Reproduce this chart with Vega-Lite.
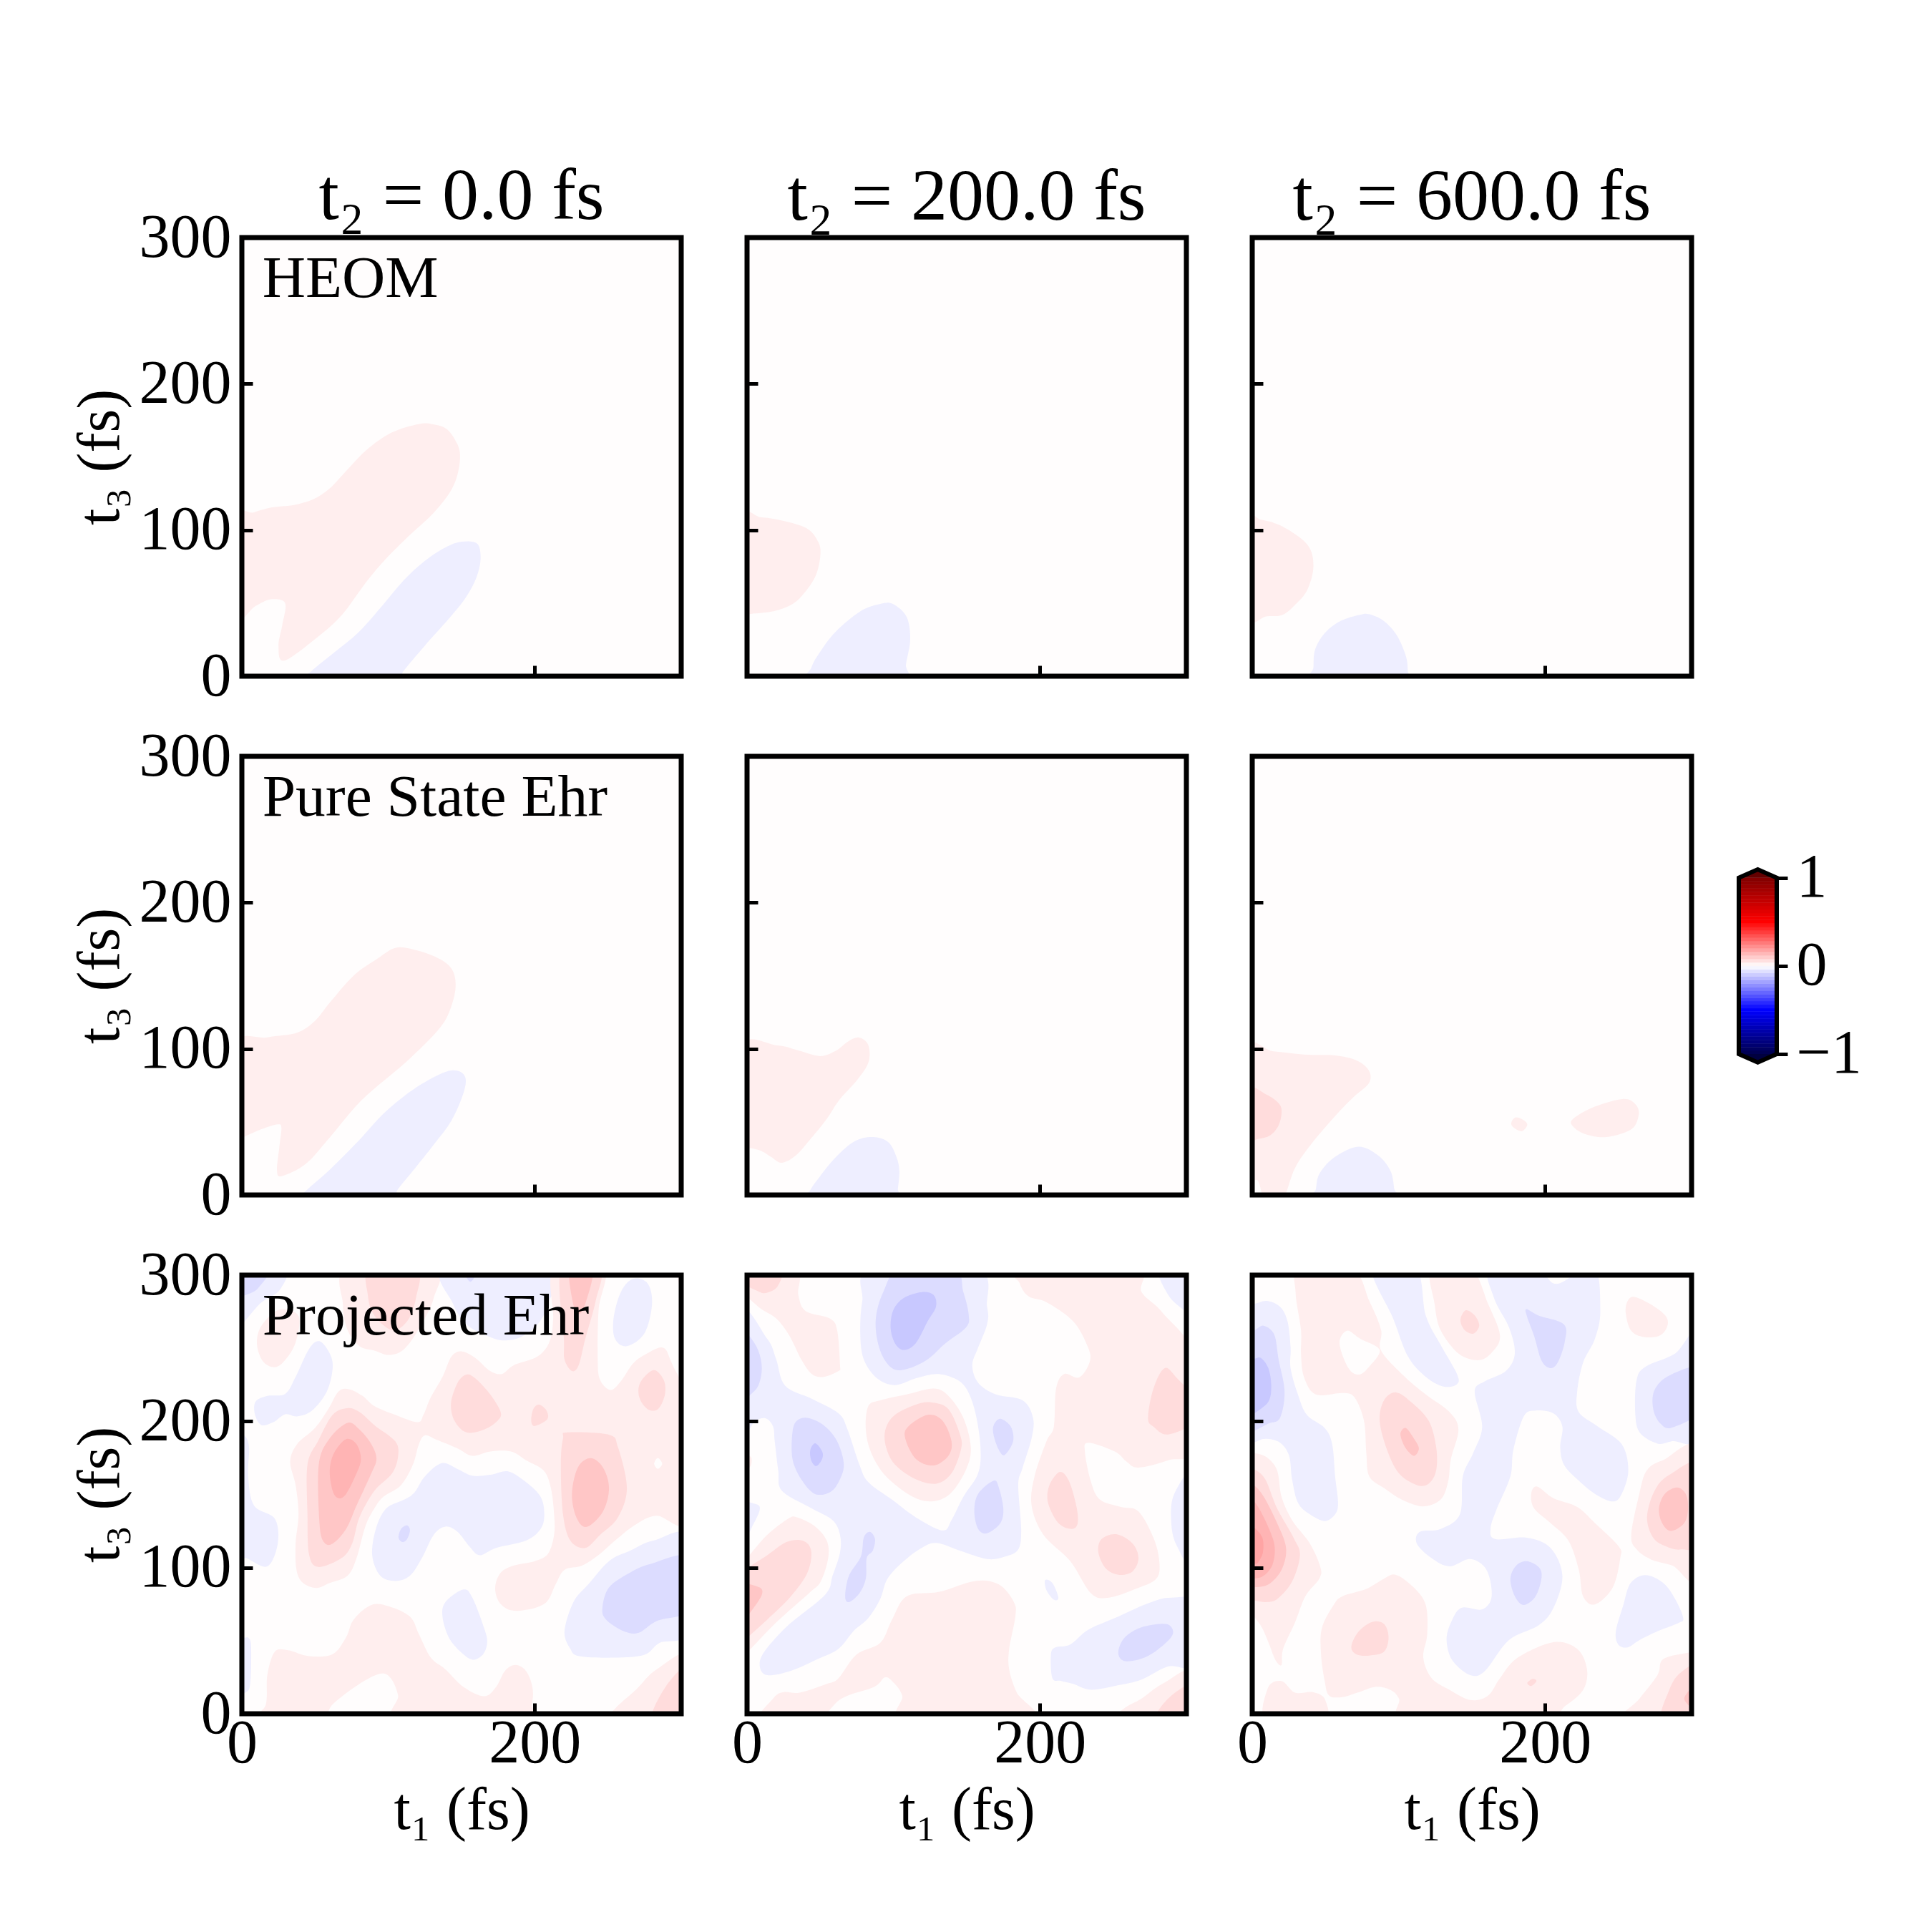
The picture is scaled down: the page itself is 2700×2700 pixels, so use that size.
{"$schema":"https://vega.github.io/schema/vega-lite/v6.json","padding":{"left":98,"top":224,"right":10,"bottom":10},"background":"white","config":{"view":{"stroke":null},"font":"Liberation Serif","axis":{"grid":false,"domain":false,"tickColor":"black","tickWidth":5,"tickSize":-15,"labelFontSize":86,"titleFontSize":84,"labelFont":"Liberation Serif","titleFont":"Liberation Serif","titleFontWeight":"normal","labelColor":"black","titleColor":"black","labelFlush":false,"labelOverlap":false},"title":{"font":"Liberation Serif","fontSize":102,"fontWeight":"normal","color":"black","offset":0.01}},
"datasets":{"frame":[{"x":0,"y":0,"x2":300,"y2":300}],
"p11":[{"id":1,"v":1,"x":-5,"y":107},{"id":1,"v":1,"x":8,"y":112},{"id":1,"v":1,"x":20.5,"y":115.5},{"id":1,"v":1,"x":35,"y":117},{"id":1,"v":1,"x":48.7,"y":121},{"id":1,"v":1,"x":60,"y":128.5},{"id":1,"v":1,"x":70,"y":139},{"id":1,"v":1,"x":85,"y":154.6},{"id":1,"v":1,"x":102,"y":166.5},{"id":1,"v":1,"x":120.5,"y":172.4},{"id":1,"v":1,"x":130,"y":172.4},{"id":1,"v":1,"x":140,"y":169},{"id":1,"v":1,"x":147,"y":159},{"id":1,"v":1,"x":149,"y":150},{"id":1,"v":1,"x":147,"y":137},{"id":1,"v":1,"x":141.6,"y":125},{"id":1,"v":1,"x":130,"y":110.7},{"id":1,"v":1,"x":116,"y":97.7},{"id":1,"v":1,"x":99,"y":81},{"id":1,"v":1,"x":85,"y":64.5},{"id":1,"v":1,"x":68.4,"y":42},{"id":1,"v":1,"x":51.5,"y":26.6},{"id":1,"v":1,"x":29,"y":10.7},{"id":1,"v":1,"x":25,"y":20.6},{"id":1,"v":1,"x":27.6,"y":35},{"id":1,"v":1,"x":29.5,"y":50},{"id":1,"v":1,"x":19.7,"y":52.6},{"id":1,"v":1,"x":9.3,"y":48},{"id":1,"v":1,"x":-5,"y":41},
{"id":2,"v":-1,"x":41,"y":-5},{"id":2,"v":-1,"x":47,"y":3},{"id":2,"v":-1,"x":62.8,"y":16},{"id":2,"v":-1,"x":79.6,"y":30},{"id":2,"v":-1,"x":96.5,"y":49},{"id":2,"v":-1,"x":110.6,"y":65.7},{"id":2,"v":-1,"x":124.7,"y":78.7},{"id":2,"v":-1,"x":138.8,"y":88},{"id":2,"v":-1,"x":150,"y":92},{"id":2,"v":-1,"x":160.7,"y":90.6},{"id":2,"v":-1,"x":163,"y":80},{"id":2,"v":-1,"x":160,"y":67},{"id":2,"v":-1,"x":153,"y":54},{"id":2,"v":-1,"x":141.6,"y":39.6},{"id":2,"v":-1,"x":124.7,"y":20.6},{"id":2,"v":-1,"x":110,"y":3},{"id":2,"v":-1,"x":106,"y":-5}],
"p12":[{"id":1,"v":1,"x":-5,"y":108},{"id":1,"v":1,"x":10,"y":108.6},{"id":1,"v":1,"x":27,"y":105.7},{"id":1,"v":1,"x":41.8,"y":100.5},{"id":1,"v":1,"x":49,"y":91},{"id":1,"v":1,"x":50,"y":82},{"id":1,"v":1,"x":47,"y":69},{"id":1,"v":1,"x":39.7,"y":57.6},{"id":1,"v":1,"x":31.2,"y":49.4},{"id":1,"v":1,"x":18.6,"y":44.5},{"id":1,"v":1,"x":2.5,"y":42.6},{"id":1,"v":1,"x":-5,"y":42},
{"id":2,"v":-1,"x":42.5,"y":-6},{"id":2,"v":-1,"x":44,"y":6},{"id":2,"v":-1,"x":50,"y":16.8},{"id":2,"v":-1,"x":60.8,"y":30.7},{"id":2,"v":-1,"x":77.6,"y":44.5},{"id":2,"v":-1,"x":91,"y":49.4},{"id":2,"v":-1,"x":99.6,"y":49.4},{"id":2,"v":-1,"x":109,"y":40.5},{"id":2,"v":-1,"x":111.4,"y":25},{"id":2,"v":-1,"x":108.5,"y":8},{"id":2,"v":-1,"x":107,"y":-6}],
"p13":[{"id":1,"v":1,"x":-5,"y":107},{"id":1,"v":1,"x":5.9,"y":107},{"id":1,"v":1,"x":20.7,"y":102.4},{"id":1,"v":1,"x":37.6,"y":90},{"id":1,"v":1,"x":41.8,"y":75.5},{"id":1,"v":1,"x":37.6,"y":59},{"id":1,"v":1,"x":29,"y":48.6},{"id":1,"v":1,"x":20.7,"y":42},{"id":1,"v":1,"x":10,"y":41},{"id":1,"v":1,"x":-5,"y":41},
{"id":2,"v":-1,"x":41.5,"y":-6},{"id":2,"v":-1,"x":41.8,"y":6},{"id":2,"v":-1,"x":43,"y":18.4},{"id":2,"v":-1,"x":50,"y":30},{"id":2,"v":-1,"x":60.8,"y":38},{"id":2,"v":-1,"x":73.4,"y":42},{"id":2,"v":-1,"x":79.7,"y":42.4},{"id":2,"v":-1,"x":89.5,"y":38},{"id":2,"v":-1,"x":98.7,"y":28},{"id":2,"v":-1,"x":105,"y":13.5},{"id":2,"v":-1,"x":106.3,"y":3},{"id":2,"v":-1,"x":106.5,"y":-6}],
"p21":[{"id":1,"v":1,"x":-5,"y":102},{"id":1,"v":1,"x":17.4,"y":107.8},{"id":1,"v":1,"x":37.7,"y":111},{"id":1,"v":1,"x":49.9,"y":119},{"id":1,"v":1,"x":60,"y":131.5},{"id":1,"v":1,"x":76.3,"y":150},{"id":1,"v":1,"x":92.5,"y":161.6},{"id":1,"v":1,"x":104.7,"y":169},{"id":1,"v":1,"x":116.8,"y":168},{"id":1,"v":1,"x":133,"y":162.5},{"id":1,"v":1,"x":143,"y":155},{"id":1,"v":1,"x":146,"y":143.7},{"id":1,"v":1,"x":143,"y":129},{"id":1,"v":1,"x":135,"y":114},{"id":1,"v":1,"x":112.8,"y":91.5},{"id":1,"v":1,"x":82.4,"y":65.4},{"id":1,"v":1,"x":60,"y":39.3},{"id":1,"v":1,"x":43.8,"y":21.4},{"id":1,"v":1,"x":27.6,"y":13},{"id":1,"v":1,"x":24,"y":16.5},{"id":1,"v":1,"x":25.6,"y":32.8},{"id":1,"v":1,"x":27,"y":45.8},{"id":1,"v":1,"x":24.5,"y":48.3},{"id":1,"v":1,"x":13.4,"y":45},{"id":1,"v":1,"x":1.6,"y":39.8},{"id":1,"v":1,"x":-5,"y":37},
{"id":2,"v":-1,"x":39,"y":-5},{"id":2,"v":-1,"x":44,"y":3},{"id":2,"v":-1,"x":60,"y":17.3},{"id":2,"v":-1,"x":80.3,"y":37.7},{"id":2,"v":-1,"x":96.6,"y":55.6},{"id":2,"v":-1,"x":116.8,"y":72},{"id":2,"v":-1,"x":137,"y":83.4},{"id":2,"v":-1,"x":147,"y":85},{"id":2,"v":-1,"x":152.7,"y":80},{"id":2,"v":-1,"x":151,"y":68.7},{"id":2,"v":-1,"x":143,"y":50.7},{"id":2,"v":-1,"x":131,"y":34.4},{"id":2,"v":-1,"x":116.8,"y":16.5},{"id":2,"v":-1,"x":106,"y":3},{"id":2,"v":-1,"x":103,"y":-5}],
"p22":[{"id":1,"v":1,"x":-5,"y":101},{"id":1,"v":1,"x":20.7,"y":102.3},{"id":1,"v":1,"x":35.4,"y":98.7},{"id":1,"v":1,"x":50,"y":95},{"id":1,"v":1,"x":60.8,"y":98.7},{"id":1,"v":1,"x":69,"y":105},{"id":1,"v":1,"x":76.4,"y":107.7},{"id":1,"v":1,"x":82.7,"y":102.8},{"id":1,"v":1,"x":83,"y":91},{"id":1,"v":1,"x":75.5,"y":79},{"id":1,"v":1,"x":63,"y":65},{"id":1,"v":1,"x":54.4,"y":52},{"id":1,"v":1,"x":44,"y":39},{"id":1,"v":1,"x":33.3,"y":27},{"id":1,"v":1,"x":23.6,"y":22},{"id":1,"v":1,"x":16.4,"y":26},{"id":1,"v":1,"x":10,"y":30},{"id":1,"v":1,"x":2.5,"y":32},{"id":1,"v":1,"x":-5,"y":33},
{"id":2,"v":-1,"x":41,"y":-5},{"id":2,"v":-1,"x":43,"y":3},{"id":2,"v":-1,"x":50,"y":13},{"id":2,"v":-1,"x":60.8,"y":26},{"id":2,"v":-1,"x":73.4,"y":36.7},{"id":2,"v":-1,"x":86,"y":39.6},{"id":2,"v":-1,"x":96.6,"y":36},{"id":2,"v":-1,"x":102,"y":26},{"id":2,"v":-1,"x":104,"y":16.3},{"id":2,"v":-1,"x":103,"y":4},{"id":2,"v":-1,"x":102,"y":-5}],
"p23":[{"id":1,"v":1,"x":-5,"y":98.5},{"id":1,"v":1,"x":14.3,"y":98.2},{"id":1,"v":1,"x":35.4,"y":96},{"id":1,"v":1,"x":56.5,"y":95.4},{"id":1,"v":1,"x":71.3,"y":92},{"id":1,"v":1,"x":79.7,"y":85},{"id":1,"v":1,"x":79.7,"y":76.5},{"id":1,"v":1,"x":69,"y":66.8},{"id":1,"v":1,"x":56.5,"y":53.8},{"id":1,"v":1,"x":39.7,"y":34},{"id":1,"v":1,"x":29,"y":18},{"id":1,"v":1,"x":20,"y":-5},{"id":1,"v":1,"x":9,"y":-5},{"id":1,"v":1,"x":3.8,"y":9.8},{"id":1,"v":1,"x":-5,"y":15},
{"id":2,"v":2,"x":-5,"y":73},{"id":2,"v":2,"x":10,"y":68.5},{"id":2,"v":2,"x":18.6,"y":62},{"id":2,"v":2,"x":20,"y":55.5},{"id":2,"v":2,"x":17.7,"y":47},{"id":2,"v":2,"x":12.2,"y":40.8},{"id":2,"v":2,"x":3.8,"y":38.3},{"id":2,"v":2,"x":-5,"y":38},
{"id":3,"v":1,"x":179.7,"y":53},{"id":3,"v":1,"x":185,"y":51.4},{"id":3,"v":1,"x":187.8,"y":48},{"id":3,"v":1,"x":184,"y":43.6},{"id":3,"v":1,"x":178,"y":46.5},{"id":3,"v":1,"x":177,"y":49.8},
{"id":4,"v":1,"x":252.7,"y":65.6},{"id":4,"v":1,"x":261,"y":62.8},{"id":4,"v":1,"x":264,"y":55.5},{"id":4,"v":1,"x":259,"y":45},{"id":4,"v":1,"x":242,"y":39.6},{"id":4,"v":1,"x":227.4,"y":41.6},{"id":4,"v":1,"x":219,"y":47},{"id":4,"v":1,"x":219,"y":52},{"id":4,"v":1,"x":233.8,"y":60.4},
{"id":5,"v":-1,"x":42.5,"y":-5},{"id":5,"v":-1,"x":43.5,"y":4},{"id":5,"v":-1,"x":46,"y":14.7},{"id":5,"v":-1,"x":56.5,"y":26},{"id":5,"v":-1,"x":72.6,"y":33},{"id":5,"v":-1,"x":86,"y":27},{"id":5,"v":-1,"x":94.5,"y":16.3},{"id":5,"v":-1,"x":97,"y":4},{"id":5,"v":-1,"x":98,"y":-5}],
"p31":[{"id":1,"v":-1,"x":-5,"y":305},{"id":1,"v":-1,"x":29,"y":305},{"id":1,"v":-1,"x":26,"y":290},{"id":1,"v":-1,"x":13,"y":281},{"id":1,"v":-1,"x":1.6,"y":268},{"id":1,"v":-1,"x":-5,"y":262},
{"id":2,"v":-2,"x":-5,"y":305},{"id":2,"v":-2,"x":18.5,"y":305},{"id":2,"v":-2,"x":11,"y":291},{"id":2,"v":-2,"x":1.6,"y":286},{"id":2,"v":-2,"x":-5,"y":283},
{"id":3,"v":1,"x":38.7,"y":272},{"id":3,"v":1,"x":36.7,"y":254},{"id":3,"v":1,"x":29.6,"y":242},{"id":3,"v":1,"x":22.5,"y":237},{"id":3,"v":1,"x":14.4,"y":241},{"id":3,"v":1,"x":10.3,"y":253},{"id":3,"v":1,"x":13.4,"y":265.4},{"id":3,"v":1,"x":25.6,"y":276.4},
{"id":4,"v":1,"x":72,"y":305},{"id":4,"v":1,"x":69,"y":280},{"id":4,"v":1,"x":72.2,"y":262.4},{"id":4,"v":1,"x":80.3,"y":251.4},{"id":4,"v":1,"x":90.5,"y":248.4},{"id":4,"v":1,"x":100.6,"y":245.4},{"id":4,"v":1,"x":110.8,"y":249.4},{"id":4,"v":1,"x":120.9,"y":263.4},{"id":4,"v":1,"x":131,"y":284.4},{"id":4,"v":1,"x":131,"y":305},
{"id":5,"v":2,"x":87.4,"y":305},{"id":5,"v":2,"x":86,"y":286.4},{"id":5,"v":2,"x":90.5,"y":272.4},{"id":5,"v":2,"x":102.6,"y":262.4},{"id":5,"v":2,"x":112.8,"y":268.4},{"id":5,"v":2,"x":118.9,"y":284.4},{"id":5,"v":2,"x":119.3,"y":305},
{"id":6,"v":-1,"x":139,"y":305},{"id":6,"v":-1,"x":144.2,"y":280.4},{"id":6,"v":-1,"x":153.4,"y":266.4},{"id":6,"v":-1,"x":165.5,"y":259.4},{"id":6,"v":-1,"x":177.7,"y":255.4},{"id":6,"v":-1,"x":189.9,"y":257.4},{"id":6,"v":-1,"x":202,"y":266.4},{"id":6,"v":-1,"x":209,"y":280.4},{"id":6,"v":-1,"x":212,"y":305},
{"id":7,"v":-2,"x":150,"y":305},{"id":7,"v":-2,"x":153,"y":299},{"id":7,"v":-2,"x":156,"y":295.5},{"id":7,"v":-2,"x":159,"y":299},{"id":7,"v":-2,"x":160,"y":305},
{"id":8,"v":1,"x":213.2,"y":305},{"id":8,"v":1,"x":247,"y":305},{"id":8,"v":1,"x":243.6,"y":276.4},{"id":8,"v":1,"x":243,"y":242.4},{"id":8,"v":1,"x":244.6,"y":228.4},{"id":8,"v":1,"x":251.7,"y":221.4},{"id":8,"v":1,"x":258.8,"y":227.4},{"id":8,"v":1,"x":267,"y":239.4},{"id":8,"v":1,"x":275,"y":245.4},{"id":8,"v":1,"x":287.2,"y":250.4},{"id":8,"v":1,"x":293.3,"y":240.4},{"id":8,"v":1,"x":306,"y":205},{"id":8,"v":1,"x":306,"y":132},{"id":8,"v":1,"x":283.2,"y":135.4},{"id":8,"v":1,"x":269,"y":129.4},{"id":8,"v":1,"x":254.8,"y":118.4},{"id":8,"v":1,"x":244.6,"y":109.4},{"id":8,"v":1,"x":232.5,"y":101.4},{"id":8,"v":1,"x":220.3,"y":98.4},{"id":8,"v":1,"x":214.2,"y":88.4},{"id":8,"v":1,"x":208,"y":76.4},{"id":8,"v":1,"x":196,"y":71.4},{"id":8,"v":1,"x":183.8,"y":70.8},{"id":8,"v":1,"x":175.7,"y":76.4},{"id":8,"v":1,"x":173,"y":86.4},{"id":8,"v":1,"x":176.7,"y":96.4},{"id":8,"v":1,"x":185.8,"y":101.4},{"id":8,"v":1,"x":200,"y":104.4},{"id":8,"v":1,"x":209,"y":109.4},{"id":8,"v":1,"x":213.2,"y":122.4},{"id":8,"v":1,"x":213.2,"y":136.4},{"id":8,"v":1,"x":211,"y":154.4},{"id":8,"v":1,"x":206,"y":166.4},{"id":8,"v":1,"x":194,"y":173.4},{"id":8,"v":1,"x":183.8,"y":179.4},{"id":8,"v":1,"x":169.6,"y":179.4},{"id":8,"v":1,"x":157.4,"y":176.4},{"id":8,"v":1,"x":147.3,"y":181.4},{"id":8,"v":1,"x":133,"y":187.4},{"id":8,"v":1,"x":125,"y":190.4},{"id":8,"v":1,"x":120.9,"y":184.4},{"id":8,"v":1,"x":116.8,"y":170.4},{"id":8,"v":1,"x":108.7,"y":156.4},{"id":8,"v":1,"x":96.6,"y":148.4},{"id":8,"v":1,"x":90.5,"y":140.4},{"id":8,"v":1,"x":84.4,"y":128.4},{"id":8,"v":1,"x":78.3,"y":106.4},{"id":8,"v":1,"x":72.2,"y":94.4},{"id":8,"v":1,"x":60,"y":89.4},{"id":8,"v":1,"x":51,"y":86},{"id":8,"v":1,"x":41.8,"y":89.4},{"id":8,"v":1,"x":37.3,"y":98.4},{"id":8,"v":1,"x":36.7,"y":116.4},{"id":8,"v":1,"x":38.7,"y":136.4},{"id":8,"v":1,"x":36.7,"y":156.4},{"id":8,"v":1,"x":33,"y":172.4},{"id":8,"v":1,"x":37.7,"y":184.4},{"id":8,"v":1,"x":49.9,"y":195.4},{"id":8,"v":1,"x":59,"y":208.4},{"id":8,"v":1,"x":66,"y":220.4},{"id":8,"v":1,"x":73.2,"y":222},{"id":8,"v":1,"x":82.4,"y":217.4},{"id":8,"v":1,"x":90.5,"y":210.4},{"id":8,"v":1,"x":104.7,"y":204.4},{"id":8,"v":1,"x":119.9,"y":199.4},{"id":8,"v":1,"x":124,"y":204.4},{"id":8,"v":1,"x":129,"y":216.4},{"id":8,"v":1,"x":137,"y":230.4},{"id":8,"v":1,"x":143.2,"y":244.4},{"id":8,"v":1,"x":150.3,"y":247.8},{"id":8,"v":1,"x":159.4,"y":243.4},{"id":8,"v":1,"x":169.6,"y":234.4},{"id":8,"v":1,"x":177.7,"y":232.4},{"id":8,"v":1,"x":185.8,"y":238.4},{"id":8,"v":1,"x":202,"y":244.4},{"id":8,"v":1,"x":210,"y":254.4},{"id":8,"v":1,"x":212.6,"y":270.4},
{"id":9,"v":0,"x":284,"y":175},{"id":9,"v":0,"x":287,"y":171},{"id":9,"v":0,"x":284,"y":167.5},{"id":9,"v":0,"x":281.5,"y":171},
{"id":10,"v":2,"x":218.3,"y":305},{"id":10,"v":2,"x":219.9,"y":256.4},{"id":10,"v":2,"x":220.3,"y":242.4},{"id":10,"v":2,"x":225.4,"y":234.4},{"id":10,"v":2,"x":230,"y":238.4},{"id":10,"v":2,"x":234.5,"y":256.4},{"id":10,"v":2,"x":241.6,"y":282.4},{"id":10,"v":2,"x":244.6,"y":305},
{"id":11,"v":3,"x":224.3,"y":305},{"id":11,"v":3,"x":225.4,"y":284.4},{"id":11,"v":3,"x":229.4,"y":273.4},{"id":11,"v":3,"x":234.5,"y":280.4},{"id":11,"v":3,"x":239.6,"y":305},
{"id":12,"v":2,"x":153.4,"y":232},{"id":12,"v":2,"x":147.3,"y":226.4},{"id":12,"v":2,"x":142.8,"y":212.4},{"id":12,"v":2,"x":145.2,"y":200.4},{"id":12,"v":2,"x":153.4,"y":192.4},{"id":12,"v":2,"x":165.5,"y":194.4},{"id":12,"v":2,"x":174.6,"y":200.4},{"id":12,"v":2,"x":176.7,"y":206.4},{"id":12,"v":2,"x":169.6,"y":218.4},{"id":12,"v":2,"x":159.4,"y":229.4},
{"id":13,"v":2,"x":203,"y":211.4},{"id":13,"v":2,"x":208,"y":207.4},{"id":13,"v":2,"x":208.5,"y":201.4},{"id":13,"v":2,"x":200,"y":196.8},{"id":13,"v":2,"x":197.6,"y":200.4},{"id":13,"v":2,"x":199,"y":208.4},
{"id":14,"v":2,"x":281,"y":235},{"id":14,"v":2,"x":288,"y":228.4},{"id":14,"v":2,"x":288.9,"y":218.4},{"id":14,"v":2,"x":284.2,"y":208.4},{"id":14,"v":2,"x":277,"y":208.4},{"id":14,"v":2,"x":271.4,"y":216.4},{"id":14,"v":2,"x":272,"y":226.4},
{"id":15,"v":2,"x":72,"y":209},{"id":15,"v":2,"x":80.3,"y":206.4},{"id":15,"v":2,"x":90.5,"y":197.4},{"id":15,"v":2,"x":104.7,"y":186.4},{"id":15,"v":2,"x":106.7,"y":176.4},{"id":15,"v":2,"x":102.6,"y":164.4},{"id":15,"v":2,"x":90.5,"y":152.4},{"id":15,"v":2,"x":80.3,"y":134.4},{"id":15,"v":2,"x":75.3,"y":116.4},{"id":15,"v":2,"x":68,"y":106.4},{"id":15,"v":2,"x":52,"y":100.4},{"id":15,"v":2,"x":45.8,"y":109.4},{"id":15,"v":2,"x":44.8,"y":136.4},{"id":15,"v":2,"x":44.8,"y":170.4},{"id":15,"v":2,"x":52,"y":186.4},{"id":15,"v":2,"x":62,"y":204.4},
{"id":16,"v":3,"x":72.2,"y":199},{"id":16,"v":3,"x":80.3,"y":194.4},{"id":16,"v":3,"x":88.4,"y":184.4},{"id":16,"v":3,"x":91.9,"y":174.4},{"id":16,"v":3,"x":88.4,"y":164.4},{"id":16,"v":3,"x":78.3,"y":142.4},{"id":16,"v":3,"x":71.2,"y":126.4},{"id":16,"v":3,"x":62,"y":116.4},{"id":16,"v":3,"x":56,"y":117.4},{"id":16,"v":3,"x":53,"y":130.4},{"id":16,"v":3,"x":52.5,"y":170.4},{"id":16,"v":3,"x":60,"y":188.4},
{"id":17,"v":4,"x":71.2,"y":187.8},{"id":17,"v":4,"x":78.3,"y":184.4},{"id":17,"v":4,"x":81.3,"y":174.4},{"id":17,"v":4,"x":78.3,"y":164.4},{"id":17,"v":4,"x":71.2,"y":150.4},{"id":17,"v":4,"x":66,"y":147.4},{"id":17,"v":4,"x":62,"y":152.4},{"id":17,"v":4,"x":60,"y":166.4},{"id":17,"v":4,"x":63,"y":178.4},
{"id":18,"v":2,"x":222.3,"y":192.4},{"id":18,"v":2,"x":250.7,"y":190.8},{"id":18,"v":2,"x":256.8,"y":182.4},{"id":18,"v":2,"x":262.9,"y":154.4},{"id":18,"v":2,"x":256.8,"y":134.4},{"id":18,"v":2,"x":244.6,"y":122.4},{"id":18,"v":2,"x":234.5,"y":113.4},{"id":18,"v":2,"x":224.3,"y":118.4},{"id":18,"v":2,"x":219.3,"y":136.4},{"id":18,"v":2,"x":217.8,"y":170.4},{"id":18,"v":2,"x":219.3,"y":188.4},
{"id":19,"v":3,"x":238.1,"y":174.8},{"id":19,"v":3,"x":246.6,"y":168.4},{"id":19,"v":3,"x":250.7,"y":154.4},{"id":19,"v":3,"x":246.6,"y":138.4},{"id":19,"v":3,"x":235.5,"y":127.8},{"id":19,"v":3,"x":228.4,"y":134.4},{"id":19,"v":3,"x":225.4,"y":150.4},{"id":19,"v":3,"x":229.4,"y":168.4},
{"id":20,"v":-1,"x":267,"y":297.4},{"id":20,"v":-1,"x":277,"y":294.4},{"id":20,"v":-1,"x":280.1,"y":280.4},{"id":20,"v":-1,"x":275,"y":260.4},{"id":20,"v":-1,"x":262.9,"y":251.4},{"id":20,"v":-1,"x":254.8,"y":256.4},{"id":20,"v":-1,"x":253.8,"y":270.4},{"id":20,"v":-1,"x":258.8,"y":288.4},
{"id":21,"v":1,"x":296,"y":305},{"id":21,"v":1,"x":297,"y":300},{"id":21,"v":1,"x":300,"y":290},{"id":21,"v":1,"x":306,"y":285},{"id":21,"v":1,"x":306,"y":305},
{"id":22,"v":-1,"x":52.9,"y":254.8},{"id":22,"v":-1,"x":60,"y":246.4},{"id":22,"v":-1,"x":62,"y":236.4},{"id":22,"v":-1,"x":58,"y":220.4},{"id":22,"v":-1,"x":47.9,"y":207.4},{"id":22,"v":-1,"x":37.7,"y":203.4},{"id":22,"v":-1,"x":29.6,"y":204.8},{"id":22,"v":-1,"x":21.5,"y":199.4},{"id":22,"v":-1,"x":13.4,"y":197.4},{"id":22,"v":-1,"x":9,"y":204.4},{"id":22,"v":-1,"x":9.3,"y":213.4},{"id":22,"v":-1,"x":17.4,"y":217.4},{"id":22,"v":-1,"x":29.6,"y":218.8},{"id":22,"v":-1,"x":36.7,"y":230.4},{"id":22,"v":-1,"x":45.8,"y":249.4},
{"id":23,"v":-1,"x":-5,"y":192},{"id":23,"v":-1,"x":1.6,"y":190.4},{"id":23,"v":-1,"x":4.9,"y":182.4},{"id":23,"v":-1,"x":4.3,"y":162.4},{"id":23,"v":-1,"x":8.3,"y":142.4},{"id":23,"v":-1,"x":22.5,"y":133.4},{"id":23,"v":-1,"x":24.5,"y":116.4},{"id":23,"v":-1,"x":17.4,"y":100.8},{"id":23,"v":-1,"x":3.2,"y":106.4},{"id":23,"v":-1,"x":-5,"y":110},
{"id":24,"v":-1,"x":136.5,"y":171.4},{"id":24,"v":-1,"x":147.3,"y":167.4},{"id":24,"v":-1,"x":157.4,"y":162.8},{"id":24,"v":-1,"x":169.6,"y":163.4},{"id":24,"v":-1,"x":181.8,"y":165.8},{"id":24,"v":-1,"x":194,"y":158.4},{"id":24,"v":-1,"x":204,"y":148.4},{"id":24,"v":-1,"x":206.5,"y":136.4},{"id":24,"v":-1,"x":204,"y":126.4},{"id":24,"v":-1,"x":194,"y":118.4},{"id":24,"v":-1,"x":173.6,"y":113.4},{"id":24,"v":-1,"x":162.5,"y":108.4},{"id":24,"v":-1,"x":155.4,"y":114.4},{"id":24,"v":-1,"x":147.3,"y":124.4},{"id":24,"v":-1,"x":139,"y":128},{"id":24,"v":-1,"x":131,"y":122.4},{"id":24,"v":-1,"x":122.9,"y":106.4},{"id":24,"v":-1,"x":114.8,"y":94.4},{"id":24,"v":-1,"x":104.7,"y":90.8},{"id":24,"v":-1,"x":94.5,"y":94.4},{"id":24,"v":-1,"x":89,"y":108.4},{"id":24,"v":-1,"x":91.5,"y":126.4},{"id":24,"v":-1,"x":98.6,"y":140.4},{"id":24,"v":-1,"x":110.8,"y":146.4},{"id":24,"v":-1,"x":117.9,"y":151.4},{"id":24,"v":-1,"x":125,"y":162.4},
{"id":25,"v":-2,"x":112.8,"y":128.8},{"id":25,"v":-2,"x":114.8,"y":125.4},{"id":25,"v":-2,"x":112.8,"y":119.4},{"id":25,"v":-2,"x":109.7,"y":117.4},{"id":25,"v":-2,"x":107,"y":120.4},{"id":25,"v":-2,"x":108.7,"y":126.4},
{"id":26,"v":-1,"x":151.3,"y":85},{"id":26,"v":-1,"x":157.4,"y":79.4},{"id":26,"v":-1,"x":165.5,"y":58.4},{"id":26,"v":-1,"x":167.5,"y":48.4},{"id":26,"v":-1,"x":164.5,"y":40.4},{"id":26,"v":-1,"x":157.4,"y":37},{"id":26,"v":-1,"x":149.3,"y":42.4},{"id":26,"v":-1,"x":141.2,"y":52.4},{"id":26,"v":-1,"x":137,"y":66.4},{"id":26,"v":-1,"x":139,"y":76.4},
{"id":27,"v":-1,"x":306,"y":120.4},{"id":27,"v":-1,"x":281,"y":118.4},{"id":27,"v":-1,"x":264.9,"y":111.4},{"id":27,"v":-1,"x":250.7,"y":104.4},{"id":27,"v":-1,"x":236.5,"y":88.4},{"id":27,"v":-1,"x":226.4,"y":76.4},{"id":27,"v":-1,"x":220.3,"y":56.4},{"id":27,"v":-1,"x":224.3,"y":44.4},{"id":27,"v":-1,"x":230.4,"y":39.4},{"id":27,"v":-1,"x":254.8,"y":38.4},{"id":27,"v":-1,"x":275,"y":40.4},{"id":27,"v":-1,"x":285.2,"y":48.4},{"id":27,"v":-1,"x":306,"y":58},
{"id":28,"v":-2,"x":306,"y":107},{"id":28,"v":-2,"x":278.9,"y":102.4},{"id":28,"v":-2,"x":264.9,"y":96.4},{"id":28,"v":-2,"x":250.7,"y":86.4},{"id":28,"v":-2,"x":246.2,"y":72.4},{"id":28,"v":-2,"x":248.7,"y":64.4},{"id":28,"v":-2,"x":260.9,"y":56.4},{"id":28,"v":-2,"x":271,"y":55.4},{"id":28,"v":-2,"x":283.2,"y":63.4},{"id":28,"v":-2,"x":306,"y":72},
{"id":29,"v":1,"x":9,"y":-6},{"id":29,"v":1,"x":16.4,"y":6.4},{"id":29,"v":1,"x":17.4,"y":26.4},{"id":29,"v":1,"x":22.5,"y":42.4},{"id":29,"v":1,"x":31.6,"y":43.4},{"id":29,"v":1,"x":45.8,"y":39.4},{"id":29,"v":1,"x":62,"y":40.8},{"id":29,"v":1,"x":71.2,"y":52.4},{"id":29,"v":1,"x":76.3,"y":64.4},{"id":29,"v":1,"x":88.4,"y":74.4},{"id":29,"v":1,"x":100.6,"y":73.4},{"id":29,"v":1,"x":114.8,"y":66.4},{"id":29,"v":1,"x":120.9,"y":54.4},{"id":29,"v":1,"x":129,"y":38.4},{"id":29,"v":1,"x":139,"y":30.4},{"id":29,"v":1,"x":151.3,"y":18.4},{"id":29,"v":1,"x":165.5,"y":12},{"id":29,"v":1,"x":173.6,"y":18.4},{"id":29,"v":1,"x":179.7,"y":29.4},{"id":29,"v":1,"x":186.8,"y":33.4},{"id":29,"v":1,"x":193.9,"y":29.4},{"id":29,"v":1,"x":198.4,"y":18.4},{"id":29,"v":1,"x":198,"y":6.4},{"id":29,"v":1,"x":193,"y":-6},{"id":29,"v":1,"x":107.7,"y":-6},{"id":29,"v":1,"x":106.7,"y":12.4},{"id":29,"v":1,"x":101.6,"y":24.4},{"id":29,"v":1,"x":94.5,"y":27.4},{"id":29,"v":1,"x":80.3,"y":20.4},{"id":29,"v":1,"x":62,"y":6.4},{"id":29,"v":1,"x":52,"y":-6},
{"id":30,"v":-1,"x":-5,"y":52},{"id":30,"v":-1,"x":1.6,"y":52},{"id":30,"v":-1,"x":4.3,"y":52},{"id":30,"v":-1,"x":6.3,"y":46.4},{"id":30,"v":-1,"x":5.7,"y":20.4},{"id":30,"v":-1,"x":2.3,"y":14.4},{"id":30,"v":-1,"x":-5,"y":13},
{"id":31,"v":1,"x":306,"y":40},{"id":31,"v":1,"x":283.2,"y":30.4},{"id":31,"v":1,"x":269,"y":16.4},{"id":31,"v":1,"x":254.8,"y":3.4},{"id":31,"v":1,"x":250,"y":-6},{"id":31,"v":1,"x":306,"y":-6},
{"id":32,"v":2,"x":306,"y":32},{"id":32,"v":2,"x":289.3,"y":18.4},{"id":32,"v":2,"x":280,"y":-6},{"id":32,"v":2,"x":306,"y":-6}],
"p32":[{"id":1,"v":1,"x":-5,"y":305},{"id":1,"v":1,"x":33,"y":305},{"id":1,"v":1,"x":35,"y":286.4},{"id":1,"v":1,"x":40,"y":275.4},{"id":1,"v":1,"x":56.4,"y":270.4},{"id":1,"v":1,"x":61.5,"y":262.4},{"id":1,"v":1,"x":63.5,"y":238.4},{"id":1,"v":1,"x":62.5,"y":234.4},{"id":1,"v":1,"x":52.3,"y":230.4},{"id":1,"v":1,"x":44.2,"y":232.4},{"id":1,"v":1,"x":37,"y":242.4},{"id":1,"v":1,"x":29,"y":258.4},{"id":1,"v":1,"x":19.9,"y":270.4},{"id":1,"v":1,"x":7.7,"y":278.4},{"id":1,"v":1,"x":-5,"y":292},
{"id":2,"v":2,"x":-5,"y":305},{"id":2,"v":2,"x":22.5,"y":305},{"id":2,"v":2,"x":20.9,"y":292.4},{"id":2,"v":2,"x":12.8,"y":287.8},{"id":2,"v":2,"x":6.7,"y":289.4},{"id":2,"v":2,"x":-5,"y":296},
{"id":3,"v":-1,"x":84.8,"y":305},{"id":3,"v":-1,"x":156.8,"y":305},{"id":3,"v":-1,"x":163.9,"y":278.4},{"id":3,"v":-1,"x":163.9,"y":266.4},{"id":3,"v":-1,"x":157.8,"y":250.4},{"id":3,"v":-1,"x":153.8,"y":238.4},{"id":3,"v":-1,"x":157.8,"y":226.4},{"id":3,"v":-1,"x":170,"y":218.4},{"id":3,"v":-1,"x":188.2,"y":214.4},{"id":3,"v":-1,"x":195.3,"y":202.4},{"id":3,"v":-1,"x":194.3,"y":188.4},{"id":3,"v":-1,"x":188.2,"y":168.4},{"id":3,"v":-1,"x":185.2,"y":156.4},{"id":3,"v":-1,"x":187.2,"y":126.4},{"id":3,"v":-1,"x":185.2,"y":112.4},{"id":3,"v":-1,"x":176,"y":107.4},{"id":3,"v":-1,"x":163.9,"y":105.8},{"id":3,"v":-1,"x":145.6,"y":111.4},{"id":3,"v":-1,"x":129.4,"y":116.8},{"id":3,"v":-1,"x":119.3,"y":113.4},{"id":3,"v":-1,"x":107,"y":104.4},{"id":3,"v":-1,"x":95.9,"y":92.4},{"id":3,"v":-1,"x":90.9,"y":78.4},{"id":3,"v":-1,"x":82.8,"y":65.4},{"id":3,"v":-1,"x":72.6,"y":56.4},{"id":3,"v":-1,"x":62.5,"y":44.4},{"id":3,"v":-1,"x":48.3,"y":37.4},{"id":3,"v":-1,"x":30,"y":29.4},{"id":3,"v":-1,"x":13.8,"y":26.4},{"id":3,"v":-1,"x":8.7,"y":32.4},{"id":3,"v":-1,"x":11.8,"y":42.4},{"id":3,"v":-1,"x":28,"y":60.4},{"id":3,"v":-1,"x":53.3,"y":81.4},{"id":3,"v":-1,"x":58.4,"y":94.4},{"id":3,"v":-1,"x":63.5,"y":110.4},{"id":3,"v":-1,"x":63.5,"y":122.4},{"id":3,"v":-1,"x":58.4,"y":132.4},{"id":3,"v":-1,"x":44.2,"y":140.4},{"id":3,"v":-1,"x":23.9,"y":152.4},{"id":3,"v":-1,"x":21.3,"y":166.4},{"id":3,"v":-1,"x":18.9,"y":186.4},{"id":3,"v":-1,"x":17.8,"y":196.4},{"id":3,"v":-1,"x":12.8,"y":202},{"id":3,"v":-1,"x":5.7,"y":200.4},{"id":3,"v":-1,"x":-5,"y":193},{"id":3,"v":-1,"x":-5,"y":275},{"id":3,"v":-1,"x":13.8,"y":256.4},{"id":3,"v":-1,"x":19.9,"y":242.4},{"id":3,"v":-1,"x":26,"y":224.4},{"id":3,"v":-1,"x":44.2,"y":215.4},{"id":3,"v":-1,"x":62.5,"y":205.4},{"id":3,"v":-1,"x":68.6,"y":194.4},{"id":3,"v":-1,"x":76.7,"y":170.4},{"id":3,"v":-1,"x":82.8,"y":158.4},{"id":3,"v":-1,"x":99,"y":146.4},{"id":3,"v":-1,"x":115.2,"y":134.4},{"id":3,"v":-1,"x":133.5,"y":125.4},{"id":3,"v":-1,"x":139.6,"y":132.4},{"id":3,"v":-1,"x":147.7,"y":148.4},{"id":3,"v":-1,"x":157.8,"y":164.4},{"id":3,"v":-1,"x":159.4,"y":182.4},{"id":3,"v":-1,"x":155.8,"y":206.4},{"id":3,"v":-1,"x":149.7,"y":222.4},{"id":3,"v":-1,"x":141.6,"y":229.4},{"id":3,"v":-1,"x":129.4,"y":232.4},{"id":3,"v":-1,"x":115.2,"y":229.4},{"id":3,"v":-1,"x":101,"y":224.8},{"id":3,"v":-1,"x":88.8,"y":229.4},{"id":3,"v":-1,"x":79.7,"y":242.4},{"id":3,"v":-1,"x":77.3,"y":260.4},{"id":3,"v":-1,"x":78.7,"y":282.4},
{"id":4,"v":-2,"x":105,"y":305},{"id":4,"v":-2,"x":93,"y":288.4},{"id":4,"v":-2,"x":87.8,"y":268.4},{"id":4,"v":-2,"x":90.9,"y":248.4},{"id":4,"v":-2,"x":99,"y":236.4},{"id":4,"v":-2,"x":109,"y":235.8},{"id":4,"v":-2,"x":123.3,"y":242.4},{"id":4,"v":-2,"x":135.5,"y":253.4},{"id":4,"v":-2,"x":149.7,"y":264.4},{"id":4,"v":-2,"x":151.3,"y":273.4},{"id":4,"v":-2,"x":147.7,"y":288.4},{"id":4,"v":-2,"x":141.2,"y":305},
{"id":5,"v":-3,"x":119.3,"y":288.4},{"id":5,"v":-3,"x":127.4,"y":286.4},{"id":5,"v":-3,"x":129,"y":278.4},{"id":5,"v":-3,"x":123.3,"y":268.4},{"id":5,"v":-3,"x":115.2,"y":253.4},{"id":5,"v":-3,"x":107,"y":248.8},{"id":5,"v":-3,"x":101,"y":253.4},{"id":5,"v":-3,"x":98,"y":264.4},{"id":5,"v":-3,"x":100,"y":276.4},{"id":5,"v":-3,"x":107,"y":284.4},
{"id":6,"v":-2,"x":-5,"y":265},{"id":6,"v":-2,"x":1.6,"y":258.4},{"id":6,"v":-2,"x":7.7,"y":248.4},{"id":6,"v":-2,"x":10.1,"y":236.4},{"id":6,"v":-2,"x":7.7,"y":224.4},{"id":6,"v":-2,"x":1.6,"y":217.4},{"id":6,"v":-2,"x":-5,"y":210},
{"id":7,"v":-2,"x":41.2,"y":202.4},{"id":7,"v":-2,"x":52.3,"y":197.4},{"id":7,"v":-2,"x":61.5,"y":186.4},{"id":7,"v":-2,"x":66.1,"y":170.4},{"id":7,"v":-2,"x":62.5,"y":158.4},{"id":7,"v":-2,"x":56.4,"y":151.4},{"id":7,"v":-2,"x":46.2,"y":150.4},{"id":7,"v":-2,"x":37,"y":160.4},{"id":7,"v":-2,"x":31,"y":174.4},{"id":7,"v":-2,"x":31,"y":192.4},{"id":7,"v":-2,"x":34,"y":200.4},
{"id":8,"v":-3,"x":46.6,"y":185},{"id":8,"v":-3,"x":51.3,"y":179.4},{"id":8,"v":-3,"x":51.3,"y":174.4},{"id":8,"v":-3,"x":47.3,"y":169.4},{"id":8,"v":-3,"x":43.8,"y":173.4},{"id":8,"v":-3,"x":43.2,"y":180.4},
{"id":9,"v":-2,"x":173,"y":201.8},{"id":9,"v":-2,"x":180.1,"y":196.4},{"id":9,"v":-2,"x":181.7,"y":186.4},{"id":9,"v":-2,"x":176,"y":177},{"id":9,"v":-2,"x":172,"y":180.4},{"id":9,"v":-2,"x":168.4,"y":190.4},{"id":9,"v":-2,"x":168.4,"y":197.4},
{"id":10,"v":-2,"x":168.4,"y":159.4},{"id":10,"v":-2,"x":172,"y":154.4},{"id":10,"v":-2,"x":175,"y":140.4},{"id":10,"v":-2,"x":173,"y":130.4},{"id":10,"v":-2,"x":163.9,"y":123.4},{"id":10,"v":-2,"x":157.8,"y":126.4},{"id":10,"v":-2,"x":155.2,"y":138.4},{"id":10,"v":-2,"x":157.8,"y":150.4},
{"id":11,"v":-2,"x":83.8,"y":124.4},{"id":11,"v":-2,"x":87.4,"y":119.4},{"id":11,"v":-2,"x":85.8,"y":111.4},{"id":11,"v":-2,"x":81.7,"y":106.4},{"id":11,"v":-2,"x":81.1,"y":92.4},{"id":11,"v":-2,"x":76.7,"y":82.4},{"id":11,"v":-2,"x":69.6,"y":76.4},{"id":11,"v":-2,"x":67,"y":80.4},{"id":11,"v":-2,"x":69.6,"y":94.4},{"id":11,"v":-2,"x":77.7,"y":107.4},{"id":11,"v":-2,"x":79.7,"y":120.4},
{"id":12,"v":1,"x":127.4,"y":222.4},{"id":12,"v":1,"x":137.5,"y":217.4},{"id":12,"v":1,"x":147.7,"y":202.4},{"id":12,"v":1,"x":152.8,"y":182.4},{"id":12,"v":1,"x":149.7,"y":167.4},{"id":12,"v":1,"x":139.6,"y":151.4},{"id":12,"v":1,"x":127.4,"y":145.4},{"id":12,"v":1,"x":113.2,"y":148.4},{"id":12,"v":1,"x":94.9,"y":162.4},{"id":12,"v":1,"x":84.8,"y":178.4},{"id":12,"v":1,"x":81.1,"y":194.4},{"id":12,"v":1,"x":82.8,"y":210.4},{"id":12,"v":1,"x":90.9,"y":214.4},{"id":12,"v":1,"x":109,"y":218.4},
{"id":13,"v":2,"x":125.4,"y":213},{"id":13,"v":2,"x":137.5,"y":208.4},{"id":13,"v":2,"x":145.6,"y":190.4},{"id":13,"v":2,"x":146,"y":180.4},{"id":13,"v":2,"x":139.6,"y":164.4},{"id":13,"v":2,"x":129.4,"y":157.4},{"id":13,"v":2,"x":115.2,"y":160.4},{"id":13,"v":2,"x":101,"y":170.4},{"id":13,"v":2,"x":94.9,"y":182.4},{"id":13,"v":2,"x":94.5,"y":194.4},{"id":13,"v":2,"x":101,"y":204.4},{"id":13,"v":2,"x":115.2,"y":211.4},
{"id":14,"v":3,"x":123.3,"y":204.4},{"id":14,"v":3,"x":133.5,"y":200.4},{"id":14,"v":3,"x":139.6,"y":186.4},{"id":14,"v":3,"x":137.5,"y":176.4},{"id":14,"v":3,"x":127.4,"y":169.8},{"id":14,"v":3,"x":115.2,"y":174.4},{"id":14,"v":3,"x":108,"y":188.4},{"id":14,"v":3,"x":110,"y":196.4},
{"id":15,"v":1,"x":186.2,"y":305},{"id":15,"v":1,"x":264.3,"y":305},{"id":15,"v":1,"x":269.4,"y":288.4},{"id":15,"v":1,"x":283.6,"y":274.4},{"id":15,"v":1,"x":306,"y":243},{"id":15,"v":1,"x":306,"y":182},{"id":15,"v":1,"x":287.6,"y":173.4},{"id":15,"v":1,"x":267.3,"y":168.4},{"id":15,"v":1,"x":259.2,"y":172.4},{"id":15,"v":1,"x":251.1,"y":179.4},{"id":15,"v":1,"x":232.9,"y":185.4},{"id":15,"v":1,"x":230.8,"y":178.4},{"id":15,"v":1,"x":234.9,"y":158.4},{"id":15,"v":1,"x":241,"y":146.4},{"id":15,"v":1,"x":255.2,"y":141.4},{"id":15,"v":1,"x":267.3,"y":138.4},{"id":15,"v":1,"x":277.5,"y":120.4},{"id":15,"v":1,"x":281.5,"y":104.4},{"id":15,"v":1,"x":279.5,"y":92.4},{"id":15,"v":1,"x":265.3,"y":85.4},{"id":15,"v":1,"x":247,"y":79.4},{"id":15,"v":1,"x":234.9,"y":82.4},{"id":15,"v":1,"x":220.7,"y":104.4},{"id":15,"v":1,"x":202.4,"y":122.4},{"id":15,"v":1,"x":194.3,"y":142.4},{"id":15,"v":1,"x":196.3,"y":162.4},{"id":15,"v":1,"x":204.5,"y":186.4},{"id":15,"v":1,"x":209.5,"y":196.4},{"id":15,"v":1,"x":211,"y":222.4},{"id":15,"v":1,"x":216.6,"y":232.4},{"id":15,"v":1,"x":226.8,"y":230},{"id":15,"v":1,"x":233.9,"y":240.4},{"id":15,"v":1,"x":232.9,"y":250.4},{"id":15,"v":1,"x":222.7,"y":268.4},{"id":15,"v":1,"x":204.5,"y":281.4},{"id":15,"v":1,"x":192.3,"y":285.4},{"id":15,"v":1,"x":186.2,"y":294.4},
{"id":16,"v":2,"x":285.2,"y":236.4},{"id":16,"v":2,"x":293.7,"y":229.4},{"id":16,"v":2,"x":306,"y":215},{"id":16,"v":2,"x":306,"y":200},{"id":16,"v":2,"x":287.6,"y":191},{"id":16,"v":2,"x":277.5,"y":196.4},{"id":16,"v":2,"x":273.8,"y":202.4},{"id":16,"v":2,"x":277.5,"y":222.4},
{"id":17,"v":2,"x":213.6,"y":165.4},{"id":17,"v":2,"x":219.7,"y":159.4},{"id":17,"v":2,"x":224.8,"y":142.4},{"id":17,"v":2,"x":225.8,"y":130.4},{"id":17,"v":2,"x":221.7,"y":126.4},{"id":17,"v":2,"x":212.6,"y":130.4},{"id":17,"v":2,"x":205.5,"y":144.4},{"id":17,"v":2,"x":206.5,"y":156.4},
{"id":18,"v":2,"x":252.1,"y":122.8},{"id":18,"v":2,"x":263.3,"y":116.4},{"id":18,"v":2,"x":267.3,"y":106.4},{"id":18,"v":2,"x":263.3,"y":97.4},{"id":18,"v":2,"x":254.2,"y":95},{"id":18,"v":2,"x":245,"y":99.4},{"id":18,"v":2,"x":239.9,"y":110.4},{"id":18,"v":2,"x":242,"y":119.4},
{"id":19,"v":-1,"x":281.5,"y":305},{"id":19,"v":-1,"x":287.6,"y":286.4},{"id":19,"v":-1,"x":298.8,"y":275.4},{"id":19,"v":-1,"x":306,"y":268},{"id":19,"v":-1,"x":306,"y":305},
{"id":20,"v":-1,"x":306,"y":165},{"id":20,"v":-1,"x":291.7,"y":150.4},{"id":20,"v":-1,"x":289.7,"y":130.4},{"id":20,"v":-1,"x":293.7,"y":114.4},{"id":20,"v":-1,"x":306,"y":100},
{"id":21,"v":-1,"x":-5,"y":148},{"id":21,"v":-1,"x":1.6,"y":144.8},{"id":21,"v":-1,"x":8.7,"y":141.4},{"id":21,"v":-1,"x":4.7,"y":130.4},{"id":21,"v":-1,"x":-5,"y":115},
{"id":22,"v":1,"x":-5,"y":178},{"id":22,"v":1,"x":1.6,"y":176.4},{"id":22,"v":1,"x":3.2,"y":173.4},{"id":22,"v":1,"x":1.6,"y":168.4},{"id":22,"v":1,"x":-5,"y":167},
{"id":23,"v":1,"x":-5,"y":100},{"id":23,"v":1,"x":1.6,"y":108.4},{"id":23,"v":1,"x":13.8,"y":122.4},{"id":23,"v":1,"x":28,"y":133.4},{"id":23,"v":1,"x":34,"y":134.4},{"id":23,"v":1,"x":46.2,"y":128.4},{"id":23,"v":1,"x":54.4,"y":118.4},{"id":23,"v":1,"x":55.4,"y":106.4},{"id":23,"v":1,"x":50.3,"y":90.4},{"id":23,"v":1,"x":42.2,"y":82.4},{"id":23,"v":1,"x":19.9,"y":62.4},{"id":23,"v":1,"x":1.6,"y":43.4},{"id":23,"v":1,"x":-5,"y":37},
{"id":24,"v":2,"x":-5,"y":94},{"id":24,"v":2,"x":1.6,"y":100.4},{"id":24,"v":2,"x":13.8,"y":108.4},{"id":24,"v":2,"x":26.9,"y":117.4},{"id":24,"v":2,"x":38,"y":118.4},{"id":24,"v":2,"x":43.8,"y":111.4},{"id":24,"v":2,"x":41.2,"y":96.4},{"id":24,"v":2,"x":30,"y":80.4},{"id":24,"v":2,"x":13.8,"y":64.4},{"id":24,"v":2,"x":1.6,"y":53.4},{"id":24,"v":2,"x":-5,"y":47},
{"id":25,"v":3,"x":-5,"y":86.4},{"id":25,"v":3,"x":7.7,"y":86.8},{"id":25,"v":3,"x":10.1,"y":81.4},{"id":25,"v":3,"x":1.6,"y":68.4},{"id":25,"v":3,"x":-5,"y":60},
{"id":26,"v":-1,"x":203.5,"y":91.4},{"id":26,"v":-1,"x":208.5,"y":89.4},{"id":26,"v":-1,"x":212.6,"y":79.4},{"id":26,"v":-1,"x":209.5,"y":78},{"id":26,"v":-1,"x":204.5,"y":84.4},
{"id":27,"v":1,"x":8,"y":-6},{"id":27,"v":1,"x":17.8,"y":10.4},{"id":27,"v":1,"x":24.9,"y":14.8},{"id":27,"v":1,"x":36,"y":14.4},{"id":27,"v":1,"x":54.4,"y":20.4},{"id":27,"v":1,"x":62.5,"y":24.4},{"id":27,"v":1,"x":74.6,"y":40.4},{"id":27,"v":1,"x":90.9,"y":48.4},{"id":27,"v":1,"x":99,"y":64.4},{"id":27,"v":1,"x":109.1,"y":80.4},{"id":27,"v":1,"x":131.4,"y":83.4},{"id":27,"v":1,"x":155.8,"y":90.8},{"id":27,"v":1,"x":172,"y":88.4},{"id":27,"v":1,"x":182.2,"y":76.4},{"id":27,"v":1,"x":183.2,"y":66.4},{"id":27,"v":1,"x":179,"y":44.4},{"id":27,"v":1,"x":179,"y":30.4},{"id":27,"v":1,"x":184.2,"y":14.4},{"id":27,"v":1,"x":195,"y":-6},{"id":27,"v":1,"x":108,"y":-6},{"id":27,"v":1,"x":106,"y":12.4},{"id":27,"v":1,"x":99,"y":22.4},{"id":27,"v":1,"x":93.9,"y":24.8},{"id":27,"v":1,"x":86.8,"y":18.4},{"id":27,"v":1,"x":64.5,"y":10.4},{"id":27,"v":1,"x":45,"y":-6},
{"id":28,"v":-1,"x":306,"y":75},{"id":28,"v":-1,"x":289.7,"y":79.4},{"id":28,"v":-1,"x":273.4,"y":75.4},{"id":28,"v":-1,"x":251.1,"y":65.4},{"id":28,"v":-1,"x":232.9,"y":57.4},{"id":28,"v":-1,"x":220.7,"y":47.4},{"id":28,"v":-1,"x":210.5,"y":45.4},{"id":28,"v":-1,"x":207.5,"y":40.4},{"id":28,"v":-1,"x":208.5,"y":24.4},{"id":28,"v":-1,"x":214.6,"y":22.4},{"id":28,"v":-1,"x":222.7,"y":20.4},{"id":28,"v":-1,"x":234.9,"y":16.4},{"id":28,"v":-1,"x":253.1,"y":19.4},{"id":28,"v":-1,"x":269.4,"y":23.4},{"id":28,"v":-1,"x":287.6,"y":32.4},{"id":28,"v":-1,"x":306,"y":34},
{"id":29,"v":-2,"x":281.5,"y":61.4},{"id":29,"v":-2,"x":288.6,"y":60.4},{"id":29,"v":-2,"x":290.7,"y":54.4},{"id":29,"v":-2,"x":283.6,"y":46.4},{"id":29,"v":-2,"x":271.4,"y":38.4},{"id":29,"v":-2,"x":258.2,"y":36},{"id":29,"v":-2,"x":253.5,"y":41.4},{"id":29,"v":-2,"x":257.2,"y":51.4},{"id":29,"v":-2,"x":267.3,"y":58.4},
{"id":30,"v":1,"x":306,"y":30},{"id":30,"v":1,"x":283.6,"y":20.4},{"id":30,"v":1,"x":269.4,"y":10.4},{"id":30,"v":1,"x":257.2,"y":3.4},{"id":30,"v":1,"x":250,"y":-6},{"id":30,"v":1,"x":306,"y":-6},
{"id":31,"v":2,"x":306,"y":20},{"id":31,"v":2,"x":287.6,"y":10.4},{"id":31,"v":2,"x":279,"y":-6},{"id":31,"v":2,"x":306,"y":-6}],
"p33":[{"id":1,"v":-1,"x":-5,"y":281},{"id":1,"v":-1,"x":1.2,"y":280.4},{"id":1,"v":-1,"x":9.9,"y":282.4},{"id":1,"v":-1,"x":19,"y":278.4},{"id":1,"v":-1,"x":24.1,"y":268.4},{"id":1,"v":-1,"x":26.2,"y":250.4},{"id":1,"v":-1,"x":26.2,"y":236.4},{"id":1,"v":-1,"x":31.2,"y":218.4},{"id":1,"v":-1,"x":37.3,"y":204.4},{"id":1,"v":-1,"x":49.5,"y":195.4},{"id":1,"v":-1,"x":54.6,"y":184.4},{"id":1,"v":-1,"x":56.6,"y":162.4},{"id":1,"v":-1,"x":58.6,"y":144.4},{"id":1,"v":-1,"x":56.6,"y":136.4},{"id":1,"v":-1,"x":49.5,"y":131.8},{"id":1,"v":-1,"x":39.4,"y":136.4},{"id":1,"v":-1,"x":31.2,"y":144.4},{"id":1,"v":-1,"x":27.2,"y":160.4},{"id":1,"v":-1,"x":25.2,"y":176.4},{"id":1,"v":-1,"x":19,"y":185.4},{"id":1,"v":-1,"x":8.9,"y":188},{"id":1,"v":-1,"x":1.2,"y":185.4},{"id":1,"v":-1,"x":-5,"y":183},
{"id":2,"v":-2,"x":-5,"y":265},{"id":2,"v":-2,"x":1.2,"y":262.4},{"id":2,"v":-2,"x":7.7,"y":265.4},{"id":2,"v":-2,"x":15,"y":259.4},{"id":2,"v":-2,"x":18,"y":242.4},{"id":2,"v":-2,"x":22.1,"y":220.4},{"id":2,"v":-2,"x":19,"y":202.4},{"id":2,"v":-2,"x":11,"y":198.4},{"id":2,"v":-2,"x":1.2,"y":193.4},{"id":2,"v":-2,"x":-5,"y":191},
{"id":3,"v":-3,"x":-5,"y":243},{"id":3,"v":-3,"x":1.2,"y":242.8},{"id":3,"v":-3,"x":5.9,"y":243.4},{"id":3,"v":-3,"x":11,"y":236.4},{"id":3,"v":-3,"x":13,"y":224.4},{"id":3,"v":-3,"x":11,"y":213.4},{"id":3,"v":-3,"x":1.2,"y":205.4},{"id":3,"v":-3,"x":-5,"y":203},
{"id":4,"v":1,"x":32.3,"y":305},{"id":4,"v":1,"x":67.7,"y":305},{"id":4,"v":1,"x":79.9,"y":282.4},{"id":4,"v":1,"x":88,"y":262.4},{"id":4,"v":1,"x":88,"y":248.4},{"id":4,"v":1,"x":104.3,"y":230.4},{"id":4,"v":1,"x":118.5,"y":218.4},{"id":4,"v":1,"x":134.7,"y":206.4},{"id":4,"v":1,"x":140.8,"y":194.4},{"id":4,"v":1,"x":135.7,"y":174.4},{"id":4,"v":1,"x":133.7,"y":158.4},{"id":4,"v":1,"x":128.6,"y":146.4},{"id":4,"v":1,"x":116.4,"y":141.8},{"id":4,"v":1,"x":102.2,"y":146.4},{"id":4,"v":1,"x":90,"y":154.4},{"id":4,"v":1,"x":79.9,"y":162.4},{"id":4,"v":1,"x":77.9,"y":178.4},{"id":4,"v":1,"x":76.3,"y":200.4},{"id":4,"v":1,"x":69.8,"y":216.4},{"id":4,"v":1,"x":61.7,"y":219.4},{"id":4,"v":1,"x":43.4,"y":218.4},{"id":4,"v":1,"x":35.3,"y":230.4},{"id":4,"v":1,"x":33.3,"y":246.4},{"id":4,"v":1,"x":33.3,"y":262.4},{"id":4,"v":1,"x":29.6,"y":288.4},
{"id":5,"v":0,"x":64.7,"y":262},{"id":5,"v":0,"x":73.8,"y":256.4},{"id":5,"v":0,"x":87,"y":248.8},{"id":5,"v":0,"x":79.9,"y":237.4},{"id":5,"v":0,"x":72.8,"y":232},{"id":5,"v":0,"x":65.7,"y":236.4},{"id":5,"v":0,"x":59.6,"y":253.4},
{"id":6,"v":2,"x":98.2,"y":219.8},{"id":6,"v":2,"x":108.3,"y":213.4},{"id":6,"v":2,"x":120.5,"y":200.4},{"id":6,"v":2,"x":125.6,"y":182.4},{"id":6,"v":2,"x":125.6,"y":166.4},{"id":6,"v":2,"x":120.5,"y":157.4},{"id":6,"v":2,"x":112.4,"y":156.4},{"id":6,"v":2,"x":100.2,"y":164.4},{"id":6,"v":2,"x":92.1,"y":180.4},{"id":6,"v":2,"x":87,"y":200.4},{"id":6,"v":2,"x":90,"y":214.4},
{"id":7,"v":3,"x":104.9,"y":195.4},{"id":7,"v":3,"x":110.3,"y":188.4},{"id":7,"v":3,"x":113.8,"y":181.4},{"id":7,"v":3,"x":110.3,"y":176.4},{"id":7,"v":3,"x":104.3,"y":182.4},{"id":7,"v":3,"x":101.2,"y":191.4},
{"id":8,"v":-1,"x":82,"y":305},{"id":8,"v":-1,"x":111.4,"y":305},{"id":8,"v":-1,"x":118.5,"y":272.4},{"id":8,"v":-1,"x":128.6,"y":252.4},{"id":8,"v":-1,"x":139.8,"y":232.4},{"id":8,"v":-1,"x":139.8,"y":225.4},{"id":8,"v":-1,"x":130.6,"y":223.8},{"id":8,"v":-1,"x":118.5,"y":230.4},{"id":8,"v":-1,"x":106.3,"y":244.4},{"id":8,"v":-1,"x":96.2,"y":270.4},
{"id":9,"v":1,"x":122.5,"y":305},{"id":9,"v":1,"x":148.9,"y":305},{"id":9,"v":1,"x":161,"y":280.4},{"id":9,"v":1,"x":169.2,"y":258.4},{"id":9,"v":1,"x":163,"y":246.4},{"id":9,"v":1,"x":154,"y":241.8},{"id":9,"v":1,"x":140.8,"y":246.4},{"id":9,"v":1,"x":128.6,"y":262.4},{"id":9,"v":1,"x":124.5,"y":280.4},
{"id":10,"v":2,"x":145.8,"y":276},{"id":10,"v":2,"x":152,"y":272.4},{"id":10,"v":2,"x":155,"y":265.4},{"id":10,"v":2,"x":151,"y":260},{"id":10,"v":2,"x":145,"y":262.4},{"id":10,"v":2,"x":142.2,"y":269.4},
{"id":11,"v":-1,"x":162,"y":306},{"id":11,"v":-1,"x":193.5,"y":306},{"id":11,"v":-1,"x":207.7,"y":294},{"id":11,"v":-1,"x":233,"y":306},{"id":11,"v":-1,"x":237.7,"y":276.4},{"id":11,"v":-1,"x":234,"y":256.4},{"id":11,"v":-1,"x":226,"y":240.4},{"id":11,"v":-1,"x":221.9,"y":220.4},{"id":11,"v":-1,"x":222.9,"y":206.4},{"id":11,"v":-1,"x":236.1,"y":196.4},{"id":11,"v":-1,"x":252.3,"y":184.4},{"id":11,"v":-1,"x":256.8,"y":166.4},{"id":11,"v":-1,"x":252.3,"y":150.4},{"id":11,"v":-1,"x":246.2,"y":145.2},{"id":11,"v":-1,"x":234,"y":150.4},{"id":11,"v":-1,"x":221.9,"y":160.4},{"id":11,"v":-1,"x":212.8,"y":170.4},{"id":11,"v":-1,"x":210.3,"y":182.4},{"id":11,"v":-1,"x":211.8,"y":196.4},{"id":11,"v":-1,"x":205.7,"y":205.4},{"id":11,"v":-1,"x":193.5,"y":207.4},{"id":11,"v":-1,"x":185.4,"y":203.4},{"id":11,"v":-1,"x":178.3,"y":180.4},{"id":11,"v":-1,"x":176.3,"y":162.4},{"id":11,"v":-1,"x":167.1,"y":140.4},{"id":11,"v":-1,"x":162.7,"y":126.4},{"id":11,"v":-1,"x":166.1,"y":119.4},{"id":11,"v":-1,"x":187.4,"y":120.4},{"id":11,"v":-1,"x":203.7,"y":113.4},{"id":11,"v":-1,"x":211.8,"y":94.4},{"id":11,"v":-1,"x":205.7,"y":72.4},{"id":11,"v":-1,"x":195.5,"y":60.4},{"id":11,"v":-1,"x":175.3,"y":50.4},{"id":11,"v":-1,"x":159,"y":29.4},{"id":11,"v":-1,"x":148.9,"y":26.4},{"id":11,"v":-1,"x":136.7,"y":36.4},{"id":11,"v":-1,"x":132.7,"y":50.4},{"id":11,"v":-1,"x":135.7,"y":62.4},{"id":11,"v":-1,"x":142.8,"y":72.4},{"id":11,"v":-1,"x":157,"y":71.4},{"id":11,"v":-1,"x":163.5,"y":80.4},{"id":11,"v":-1,"x":160,"y":98.4},{"id":11,"v":-1,"x":148.9,"y":105.8},{"id":11,"v":-1,"x":134.7,"y":100.8},{"id":11,"v":-1,"x":122.5,"y":106.4},{"id":11,"v":-1,"x":112.4,"y":116.4},{"id":11,"v":-1,"x":114.4,"y":124.4},{"id":11,"v":-1,"x":128.6,"y":126.4},{"id":11,"v":-1,"x":141.8,"y":136.4},{"id":11,"v":-1,"x":143.8,"y":162.4},{"id":11,"v":-1,"x":150.9,"y":178.4},{"id":11,"v":-1,"x":157,"y":196.4},{"id":11,"v":-1,"x":151.9,"y":220.4},{"id":11,"v":-1,"x":159,"y":227.4},{"id":11,"v":-1,"x":173.2,"y":234.4},{"id":11,"v":-1,"x":179.3,"y":246.4},{"id":11,"v":-1,"x":175.3,"y":264.4},{"id":11,"v":-1,"x":165.1,"y":284.4},
{"id":12,"v":-2,"x":187.4,"y":276.8},{"id":12,"v":-2,"x":195.5,"y":272.4},{"id":12,"v":-2,"x":212.8,"y":266.4},{"id":12,"v":-2,"x":213.4,"y":254.4},{"id":12,"v":-2,"x":208.7,"y":240.4},{"id":12,"v":-2,"x":203.7,"y":236.4},{"id":12,"v":-2,"x":197.6,"y":241.4},{"id":12,"v":-2,"x":192.5,"y":258.4},{"id":12,"v":-2,"x":187.4,"y":272.4},
{"id":13,"v":-2,"x":187.4,"y":104.4},{"id":13,"v":-2,"x":195.5,"y":100.4},{"id":13,"v":-2,"x":197.6,"y":93.4},{"id":13,"v":-2,"x":193.5,"y":80.4},{"id":13,"v":-2,"x":185.4,"y":74.4},{"id":13,"v":-2,"x":179.3,"y":80.4},{"id":13,"v":-2,"x":176.3,"y":92.4},{"id":13,"v":-2,"x":180.3,"y":101.4},
{"id":14,"v":1,"x":261.5,"y":285},{"id":14,"v":1,"x":274.7,"y":278.4},{"id":14,"v":1,"x":282.8,"y":271.4},{"id":14,"v":1,"x":283.2,"y":264.4},{"id":14,"v":1,"x":277.7,"y":258.4},{"id":14,"v":1,"x":266.5,"y":257.8},{"id":14,"v":1,"x":258.4,"y":262.4},{"id":14,"v":1,"x":255,"y":274.4},{"id":14,"v":1,"x":256.4,"y":282.4},
{"id":15,"v":-1,"x":306,"y":262},{"id":15,"v":-1,"x":288.8,"y":246.4},{"id":15,"v":-1,"x":268.6,"y":237.4},{"id":15,"v":-1,"x":262.5,"y":228.4},{"id":15,"v":-1,"x":261.5,"y":206.4},{"id":15,"v":-1,"x":264.5,"y":192.4},{"id":15,"v":-1,"x":276.7,"y":184.8},{"id":15,"v":-1,"x":286.8,"y":186.4},{"id":15,"v":-1,"x":306,"y":191},
{"id":16,"v":-2,"x":306,"y":236},{"id":16,"v":-2,"x":284.9,"y":231.4},{"id":16,"v":-2,"x":274.7,"y":221.4},{"id":16,"v":-2,"x":273.8,"y":208.4},{"id":16,"v":-2,"x":278.8,"y":198.4},{"id":16,"v":-2,"x":286.8,"y":195.8},{"id":16,"v":-2,"x":306,"y":208},
{"id":17,"v":1,"x":-5,"y":179},{"id":17,"v":1,"x":1.2,"y":178.4},{"id":17,"v":1,"x":9.9,"y":175.4},{"id":17,"v":1,"x":17,"y":166.4},{"id":17,"v":1,"x":20,"y":148.4},{"id":17,"v":1,"x":27.2,"y":132.4},{"id":17,"v":1,"x":39.4,"y":116.4},{"id":17,"v":1,"x":46.5,"y":100.4},{"id":17,"v":1,"x":45.8,"y":92.4},{"id":17,"v":1,"x":36.3,"y":80.4},{"id":17,"v":1,"x":29.2,"y":62.4},{"id":17,"v":1,"x":21.1,"y":44.4},{"id":17,"v":1,"x":20,"y":33.4},{"id":17,"v":1,"x":16,"y":36.4},{"id":17,"v":1,"x":12,"y":46.4},{"id":17,"v":1,"x":6.9,"y":58.4},{"id":17,"v":1,"x":1.2,"y":66.4},{"id":17,"v":1,"x":-5,"y":73},
{"id":18,"v":2,"x":-5,"y":170},{"id":18,"v":2,"x":1.2,"y":167.4},{"id":18,"v":2,"x":8.9,"y":160.4},{"id":18,"v":2,"x":17,"y":140.4},{"id":18,"v":2,"x":28.2,"y":120.4},{"id":18,"v":2,"x":32.6,"y":108.4},{"id":18,"v":2,"x":27.2,"y":90.4},{"id":18,"v":2,"x":17,"y":78.4},{"id":18,"v":2,"x":8.9,"y":76.4},{"id":18,"v":2,"x":1.2,"y":77.4},{"id":18,"v":2,"x":-5,"y":78},
{"id":19,"v":3,"x":-5,"y":160},{"id":19,"v":3,"x":1.2,"y":156.4},{"id":19,"v":3,"x":7.9,"y":148.4},{"id":19,"v":3,"x":17,"y":130.4},{"id":19,"v":3,"x":23.1,"y":113.4},{"id":19,"v":3,"x":20,"y":98.4},{"id":19,"v":3,"x":11,"y":88.4},{"id":19,"v":3,"x":1.2,"y":86.4},{"id":19,"v":3,"x":-5,"y":86},
{"id":20,"v":4,"x":-5,"y":150},{"id":20,"v":4,"x":1.2,"y":145.4},{"id":20,"v":4,"x":7.9,"y":134.4},{"id":20,"v":4,"x":15,"y":116.4},{"id":20,"v":4,"x":14,"y":102.4},{"id":20,"v":4,"x":7.9,"y":94.4},{"id":20,"v":4,"x":1.2,"y":92.4},{"id":20,"v":4,"x":-5,"y":91},
{"id":21,"v":5,"x":-5,"y":130},{"id":21,"v":5,"x":1.2,"y":127.4},{"id":21,"v":5,"x":6.9,"y":120.4},{"id":21,"v":5,"x":7.3,"y":110.4},{"id":21,"v":5,"x":3.9,"y":103.4},{"id":21,"v":5,"x":1.2,"y":102.4},{"id":21,"v":5,"x":-5,"y":101},
{"id":22,"v":1,"x":306,"y":180},{"id":22,"v":1,"x":280.5,"y":173.4},{"id":22,"v":1,"x":269.4,"y":166.4},{"id":22,"v":1,"x":264.3,"y":150.4},{"id":22,"v":1,"x":258.8,"y":122.4},{"id":22,"v":1,"x":262.5,"y":112.4},{"id":22,"v":1,"x":272.6,"y":105.4},{"id":22,"v":1,"x":286.8,"y":101.4},{"id":22,"v":1,"x":306,"y":93},
{"id":23,"v":2,"x":306,"y":170},{"id":23,"v":2,"x":284.9,"y":163.4},{"id":23,"v":2,"x":274.7,"y":152.4},{"id":23,"v":2,"x":269.6,"y":134.4},{"id":23,"v":2,"x":273.8,"y":120.4},{"id":23,"v":2,"x":282.8,"y":114.4},{"id":23,"v":2,"x":293,"y":112.4},{"id":23,"v":2,"x":306,"y":118},
{"id":24,"v":3,"x":290,"y":154.8},{"id":24,"v":3,"x":296,"y":150.4},{"id":24,"v":3,"x":297.6,"y":140.4},{"id":24,"v":3,"x":295,"y":130.4},{"id":24,"v":3,"x":285.9,"y":125},{"id":24,"v":3,"x":279.9,"y":130.4},{"id":24,"v":3,"x":277.7,"y":140.4},{"id":24,"v":3,"x":281.7,"y":150.4},
{"id":25,"v":1,"x":194.5,"y":155.4},{"id":25,"v":1,"x":205.7,"y":147.4},{"id":25,"v":1,"x":221.9,"y":141.4},{"id":25,"v":1,"x":234,"y":130.4},{"id":25,"v":1,"x":250.3,"y":114.4},{"id":25,"v":1,"x":251.3,"y":106.4},{"id":25,"v":1,"x":246.2,"y":86.4},{"id":25,"v":1,"x":234,"y":74.8},{"id":25,"v":1,"x":225.9,"y":80.4},{"id":25,"v":1,"x":223,"y":98.4},{"id":25,"v":1,"x":215.9,"y":118.4},{"id":25,"v":1,"x":203.7,"y":130.4},{"id":25,"v":1,"x":192.5,"y":140.4},{"id":25,"v":1,"x":190.5,"y":150.4},
{"id":26,"v":-1,"x":268.6,"y":94.8},{"id":26,"v":-1,"x":280.7,"y":89.4},{"id":26,"v":-1,"x":288.8,"y":78.4},{"id":26,"v":-1,"x":294.3,"y":65.4},{"id":26,"v":-1,"x":290.9,"y":62},{"id":26,"v":-1,"x":276.7,"y":56.4},{"id":26,"v":-1,"x":264.5,"y":50.4},{"id":26,"v":-1,"x":256.4,"y":45.4},{"id":26,"v":-1,"x":249.9,"y":47.4},{"id":26,"v":-1,"x":248.3,"y":56.4},{"id":26,"v":-1,"x":253.4,"y":74.4},{"id":26,"v":-1,"x":258.4,"y":89.4},
{"id":27,"v":1,"x":98.2,"y":95},{"id":27,"v":1,"x":110.3,"y":86.4},{"id":27,"v":1,"x":118.5,"y":74.4},{"id":27,"v":1,"x":119.5,"y":54.4},{"id":27,"v":1,"x":116.8,"y":38.4},{"id":27,"v":1,"x":122.5,"y":24.4},{"id":27,"v":1,"x":134.7,"y":16.4},{"id":27,"v":1,"x":148.9,"y":9.4},{"id":27,"v":1,"x":161,"y":12.4},{"id":27,"v":1,"x":169.2,"y":24.4},{"id":27,"v":1,"x":181.3,"y":38.4},{"id":27,"v":1,"x":205.7,"y":49},{"id":27,"v":1,"x":221.9,"y":44.4},{"id":27,"v":1,"x":228.6,"y":30.4},{"id":27,"v":1,"x":226,"y":16.4},{"id":27,"v":1,"x":213.8,"y":5.4},{"id":27,"v":1,"x":195,"y":-6},{"id":27,"v":1,"x":106.3,"y":-6},{"id":27,"v":1,"x":100.2,"y":10.4},{"id":27,"v":1,"x":94.1,"y":16.4},{"id":27,"v":1,"x":84,"y":18.4},{"id":27,"v":1,"x":71.8,"y":14.4},{"id":27,"v":1,"x":61.7,"y":11.4},{"id":27,"v":1,"x":52.5,"y":12.4},{"id":27,"v":1,"x":49.5,"y":22.4},{"id":27,"v":1,"x":47,"y":40.4},{"id":27,"v":1,"x":47.5,"y":58.4},{"id":27,"v":1,"x":55.6,"y":74.4},{"id":27,"v":1,"x":61.7,"y":80.4},{"id":27,"v":1,"x":77.9,"y":85.4},{"id":27,"v":1,"x":90,"y":92.4},
{"id":28,"v":2,"x":81.9,"y":62.8},{"id":28,"v":2,"x":90,"y":61.4},{"id":28,"v":2,"x":93.1,"y":52.4},{"id":28,"v":2,"x":90,"y":42.4},{"id":28,"v":2,"x":79.9,"y":39.8},{"id":28,"v":2,"x":70.8,"y":40.8},{"id":28,"v":2,"x":67.7,"y":46.4},{"id":28,"v":2,"x":72.8,"y":56.4},
{"id":29,"v":2,"x":191.5,"y":23.8},{"id":29,"v":2,"x":194.1,"y":22.4},{"id":29,"v":2,"x":190.5,"y":19},{"id":29,"v":2,"x":187.8,"y":21},
{"id":30,"v":1,"x":9.9,"y":-6},{"id":30,"v":1,"x":10.6,"y":17.4},{"id":30,"v":1,"x":20,"y":22.4},{"id":30,"v":1,"x":29.2,"y":14.4},{"id":30,"v":1,"x":41.4,"y":14.8},{"id":30,"v":1,"x":49.9,"y":9.4},{"id":30,"v":1,"x":48.5,"y":-6},
{"id":31,"v":1,"x":252,"y":-6},{"id":31,"v":1,"x":264.5,"y":10.4},{"id":31,"v":1,"x":276.7,"y":26.4},{"id":31,"v":1,"x":280.7,"y":37.4},{"id":31,"v":1,"x":298.6,"y":42},{"id":31,"v":1,"x":306,"y":43},{"id":31,"v":1,"x":306,"y":-6},
{"id":32,"v":2,"x":279.7,"y":-6},{"id":32,"v":2,"x":284.8,"y":16.4},{"id":32,"v":2,"x":292.9,"y":28.4},{"id":32,"v":2,"x":306,"y":32},{"id":32,"v":2,"x":306,"y":-6},
{"id":33,"v":3,"x":306,"y":21},{"id":33,"v":3,"x":295,"y":10.4},{"id":33,"v":3,"x":306,"y":1.6}],
"bar":[{"lo":-1,"hi":-0.96,"m":-0.98},{"lo":-0.96,"hi":-0.92,"m":-0.94},{"lo":-0.92,"hi":-0.88,"m":-0.9},{"lo":-0.88,"hi":-0.84,"m":-0.86},{"lo":-0.84,"hi":-0.8,"m":-0.82},{"lo":-0.8,"hi":-0.76,"m":-0.78},{"lo":-0.76,"hi":-0.72,"m":-0.74},{"lo":-0.72,"hi":-0.68,"m":-0.7},{"lo":-0.68,"hi":-0.64,"m":-0.66},{"lo":-0.64,"hi":-0.6,"m":-0.62},{"lo":-0.6,"hi":-0.56,"m":-0.58},{"lo":-0.56,"hi":-0.52,"m":-0.54},{"lo":-0.52,"hi":-0.48,"m":-0.5},{"lo":-0.48,"hi":-0.44,"m":-0.46},{"lo":-0.44,"hi":-0.4,"m":-0.42},{"lo":-0.4,"hi":-0.36,"m":-0.38},{"lo":-0.36,"hi":-0.32,"m":-0.34},{"lo":-0.32,"hi":-0.28,"m":-0.3},{"lo":-0.28,"hi":-0.24,"m":-0.26},{"lo":-0.24,"hi":-0.2,"m":-0.22},{"lo":-0.2,"hi":-0.16,"m":-0.18},{"lo":-0.16,"hi":-0.12,"m":-0.14},{"lo":-0.12,"hi":-0.08,"m":-0.1},{"lo":-0.08,"hi":-0.04,"m":-0.06},{"lo":-0.04,"hi":0,"m":-0.02},{"lo":0,"hi":0.04,"m":0.02},{"lo":0.04,"hi":0.08,"m":0.06},{"lo":0.08,"hi":0.12,"m":0.1},{"lo":0.12,"hi":0.16,"m":0.14},{"lo":0.16,"hi":0.2,"m":0.18},{"lo":0.2,"hi":0.24,"m":0.22},{"lo":0.24,"hi":0.28,"m":0.26},{"lo":0.28,"hi":0.32,"m":0.3},{"lo":0.32,"hi":0.36,"m":0.34},{"lo":0.36,"hi":0.4,"m":0.38},{"lo":0.4,"hi":0.44,"m":0.42},{"lo":0.44,"hi":0.48,"m":0.46},{"lo":0.48,"hi":0.52,"m":0.5},{"lo":0.52,"hi":0.56,"m":0.54},{"lo":0.56,"hi":0.6,"m":0.58},{"lo":0.6,"hi":0.64,"m":0.62},{"lo":0.64,"hi":0.68,"m":0.66},{"lo":0.68,"hi":0.72,"m":0.7},{"lo":0.72,"hi":0.76,"m":0.74},{"lo":0.76,"hi":0.8,"m":0.78},{"lo":0.8,"hi":0.84,"m":0.82},{"lo":0.84,"hi":0.88,"m":0.86},{"lo":0.88,"hi":0.92,"m":0.9},{"lo":0.92,"hi":0.96,"m":0.94},{"lo":0.96,"hi":1,"m":0.98}],
"tipT":[{"x":0,"y":1},{"x":1,"y":1},{"x":0.5,"y":1.095}],"tipB":[{"x":0,"y":-1},{"x":1,"y":-1},{"x":0.5,"y":-1.095}],"hex":[{"x":0,"y":-1},{"x":0,"y":1},{"x":0.5,"y":1.095},{"x":1,"y":1},{"x":1,"y":-1},{"x":0.5,"y":-1.095}]},
"spacing":50,"hconcat":[{"bounds":"flush","spacing":{"row":112,"column":92},"columns":3,"concat":[
{"width":614,"height":613,"title":{"text":"t₂ = 0.0 fs","offset":-38},"encoding":{"x":{"field":"x","type":"quantitative","scale":{"domain":[0,300],"nice":false},"axis":{"zindex":1,"values":[0,200],"labels":false,"title":null}},"y":{"field":"y","type":"quantitative","scale":{"domain":[0,300],"nice":false},"axis":{"zindex":1,"values":[0,100,200,300],"labelPadding":30,"titlePadding":11,"title":"t₃ (fs)"}}},"layer":[
{"data":{"name":"frame"},"mark":{"type":"rect","fill":"#fffdfd"},"encoding":{"x2":{"field":"x2"},"y2":{"field":"y2"}}},
{"data":{"name":"p11"},"mark":{"type":"line","interpolate":"cardinal-closed","tension":0,"clip":true,"strokeWidth":0},"encoding":{"detail":{"field":"id"},"order":{"value":null},"fill":{"field":"v","type":"ordinal","legend":null,"scale":{"domain":[-3,-2,-1,0,1,2,3,4,5],"range":["#c8c8ff","#dcdcff","#eeeeff","#fffdfd","#ffeeee","#ffdcdc","#ffc6c6","#ffb4b4","#ffa4a4"]}}}},
{"data":{"name":"frame"},"mark":{"type":"rect","fillOpacity":0,"stroke":"black","strokeWidth":7},"encoding":{"x2":{"field":"x2"},"y2":{"field":"y2"}}},
{"data":{"values":[{"x":14,"y":259.5,"t":"HEOM"}]},"mark":{"type":"text","align":"left","baseline":"alphabetic","fontSize":83.5,"font":"Liberation Serif"},"encoding":{"text":{"field":"t"}}}]},
{"width":614,"height":613,"title":"t₂ = 200.0 fs","encoding":{"x":{"field":"x","type":"quantitative","scale":{"domain":[0,300],"nice":false},"axis":{"zindex":1,"values":[0,200],"labels":false,"title":null}},"y":{"field":"y","type":"quantitative","scale":{"domain":[0,300],"nice":false},"axis":{"zindex":1,"values":[0,100,200,300],"labels":false,"title":null}}},"layer":[
{"data":{"name":"frame"},"mark":{"type":"rect","fill":"#fffdfd"},"encoding":{"x2":{"field":"x2"},"y2":{"field":"y2"}}},
{"data":{"name":"p12"},"mark":{"type":"line","interpolate":"cardinal-closed","tension":0,"clip":true,"strokeWidth":0},"encoding":{"detail":{"field":"id"},"order":{"value":null},"fill":{"field":"v","type":"ordinal","legend":null,"scale":{"domain":[-3,-2,-1,0,1,2,3,4,5],"range":["#c8c8ff","#dcdcff","#eeeeff","#fffdfd","#ffeeee","#ffdcdc","#ffc6c6","#ffb4b4","#ffa4a4"]}}}},
{"data":{"name":"frame"},"mark":{"type":"rect","fillOpacity":0,"stroke":"black","strokeWidth":7},"encoding":{"x2":{"field":"x2"},"y2":{"field":"y2"}}}]},
{"width":614,"height":613,"title":"t₂ = 600.0 fs","encoding":{"x":{"field":"x","type":"quantitative","scale":{"domain":[0,300],"nice":false},"axis":{"zindex":1,"values":[0,200],"labels":false,"title":null}},"y":{"field":"y","type":"quantitative","scale":{"domain":[0,300],"nice":false},"axis":{"zindex":1,"values":[0,100,200,300],"labels":false,"title":null}}},"layer":[
{"data":{"name":"frame"},"mark":{"type":"rect","fill":"#fffdfd"},"encoding":{"x2":{"field":"x2"},"y2":{"field":"y2"}}},
{"data":{"name":"p13"},"mark":{"type":"line","interpolate":"cardinal-closed","tension":0,"clip":true,"strokeWidth":0},"encoding":{"detail":{"field":"id"},"order":{"value":null},"fill":{"field":"v","type":"ordinal","legend":null,"scale":{"domain":[-3,-2,-1,0,1,2,3,4,5],"range":["#c8c8ff","#dcdcff","#eeeeff","#fffdfd","#ffeeee","#ffdcdc","#ffc6c6","#ffb4b4","#ffa4a4"]}}}},
{"data":{"name":"frame"},"mark":{"type":"rect","fillOpacity":0,"stroke":"black","strokeWidth":7},"encoding":{"x2":{"field":"x2"},"y2":{"field":"y2"}}}]},
{"width":614,"height":613,"encoding":{"x":{"field":"x","type":"quantitative","scale":{"domain":[0,300],"nice":false},"axis":{"zindex":1,"values":[0,200],"labels":false,"title":null}},"y":{"field":"y","type":"quantitative","scale":{"domain":[0,300],"nice":false},"axis":{"zindex":1,"values":[0,100,200,300],"labelPadding":30,"titlePadding":11,"title":"t₃ (fs)"}}},"layer":[
{"data":{"name":"frame"},"mark":{"type":"rect","fill":"#fffdfd"},"encoding":{"x2":{"field":"x2"},"y2":{"field":"y2"}}},
{"data":{"name":"p21"},"mark":{"type":"line","interpolate":"cardinal-closed","tension":0,"clip":true,"strokeWidth":0},"encoding":{"detail":{"field":"id"},"order":{"value":null},"fill":{"field":"v","type":"ordinal","legend":null,"scale":{"domain":[-3,-2,-1,0,1,2,3,4,5],"range":["#c8c8ff","#dcdcff","#eeeeff","#fffdfd","#ffeeee","#ffdcdc","#ffc6c6","#ffb4b4","#ffa4a4"]}}}},
{"data":{"name":"frame"},"mark":{"type":"rect","fillOpacity":0,"stroke":"black","strokeWidth":7},"encoding":{"x2":{"field":"x2"},"y2":{"field":"y2"}}},
{"data":{"values":[{"x":14,"y":259.5,"t":"Pure State Ehr"}]},"mark":{"type":"text","align":"left","baseline":"alphabetic","fontSize":83.5,"font":"Liberation Serif"},"encoding":{"text":{"field":"t"}}}]},
{"width":614,"height":613,"encoding":{"x":{"field":"x","type":"quantitative","scale":{"domain":[0,300],"nice":false},"axis":{"zindex":1,"values":[0,200],"labels":false,"title":null}},"y":{"field":"y","type":"quantitative","scale":{"domain":[0,300],"nice":false},"axis":{"zindex":1,"values":[0,100,200,300],"labels":false,"title":null}}},"layer":[
{"data":{"name":"frame"},"mark":{"type":"rect","fill":"#fffdfd"},"encoding":{"x2":{"field":"x2"},"y2":{"field":"y2"}}},
{"data":{"name":"p22"},"mark":{"type":"line","interpolate":"cardinal-closed","tension":0,"clip":true,"strokeWidth":0},"encoding":{"detail":{"field":"id"},"order":{"value":null},"fill":{"field":"v","type":"ordinal","legend":null,"scale":{"domain":[-3,-2,-1,0,1,2,3,4,5],"range":["#c8c8ff","#dcdcff","#eeeeff","#fffdfd","#ffeeee","#ffdcdc","#ffc6c6","#ffb4b4","#ffa4a4"]}}}},
{"data":{"name":"frame"},"mark":{"type":"rect","fillOpacity":0,"stroke":"black","strokeWidth":7},"encoding":{"x2":{"field":"x2"},"y2":{"field":"y2"}}}]},
{"width":614,"height":613,"encoding":{"x":{"field":"x","type":"quantitative","scale":{"domain":[0,300],"nice":false},"axis":{"zindex":1,"values":[0,200],"labels":false,"title":null}},"y":{"field":"y","type":"quantitative","scale":{"domain":[0,300],"nice":false},"axis":{"zindex":1,"values":[0,100,200,300],"labels":false,"title":null}}},"layer":[
{"data":{"name":"frame"},"mark":{"type":"rect","fill":"#fffdfd"},"encoding":{"x2":{"field":"x2"},"y2":{"field":"y2"}}},
{"data":{"name":"p23"},"mark":{"type":"line","interpolate":"cardinal-closed","tension":0,"clip":true,"strokeWidth":0},"encoding":{"detail":{"field":"id"},"order":{"value":null},"fill":{"field":"v","type":"ordinal","legend":null,"scale":{"domain":[-3,-2,-1,0,1,2,3,4,5],"range":["#c8c8ff","#dcdcff","#eeeeff","#fffdfd","#ffeeee","#ffdcdc","#ffc6c6","#ffb4b4","#ffa4a4"]}}}},
{"data":{"name":"frame"},"mark":{"type":"rect","fillOpacity":0,"stroke":"black","strokeWidth":7},"encoding":{"x2":{"field":"x2"},"y2":{"field":"y2"}}}]},
{"width":614,"height":613,"encoding":{"x":{"field":"x","type":"quantitative","scale":{"domain":[0,300],"nice":false},"axis":{"zindex":1,"values":[0,200],"labelPadding":14,"titlePadding":10,"title":"t₁ (fs)"}},"y":{"field":"y","type":"quantitative","scale":{"domain":[0,300],"nice":false},"axis":{"zindex":1,"values":[0,100,200,300],"labelPadding":30,"titlePadding":11,"title":"t₃ (fs)"}}},"layer":[
{"data":{"name":"frame"},"mark":{"type":"rect","fill":"#fffdfd"},"encoding":{"x2":{"field":"x2"},"y2":{"field":"y2"}}},
{"data":{"name":"p31"},"mark":{"type":"line","interpolate":"cardinal-closed","tension":0,"clip":true,"strokeWidth":0},"encoding":{"detail":{"field":"id"},"order":{"value":null},"fill":{"field":"v","type":"ordinal","legend":null,"scale":{"domain":[-3,-2,-1,0,1,2,3,4,5],"range":["#c8c8ff","#dcdcff","#eeeeff","#fffdfd","#ffeeee","#ffdcdc","#ffc6c6","#ffb4b4","#ffa4a4"]}}}},
{"data":{"name":"frame"},"mark":{"type":"rect","fillOpacity":0,"stroke":"black","strokeWidth":7},"encoding":{"x2":{"field":"x2"},"y2":{"field":"y2"}}},
{"data":{"values":[{"x":14,"y":259.5,"t":"Projected Ehr"}]},"mark":{"type":"text","align":"left","baseline":"alphabetic","fontSize":83.5,"font":"Liberation Serif"},"encoding":{"text":{"field":"t"}}}]},
{"width":614,"height":613,"encoding":{"x":{"field":"x","type":"quantitative","scale":{"domain":[0,300],"nice":false},"axis":{"zindex":1,"values":[0,200],"labelPadding":14,"titlePadding":10,"title":"t₁ (fs)"}},"y":{"field":"y","type":"quantitative","scale":{"domain":[0,300],"nice":false},"axis":{"zindex":1,"values":[0,100,200,300],"labels":false,"title":null}}},"layer":[
{"data":{"name":"frame"},"mark":{"type":"rect","fill":"#fffdfd"},"encoding":{"x2":{"field":"x2"},"y2":{"field":"y2"}}},
{"data":{"name":"p32"},"mark":{"type":"line","interpolate":"cardinal-closed","tension":0,"clip":true,"strokeWidth":0},"encoding":{"detail":{"field":"id"},"order":{"value":null},"fill":{"field":"v","type":"ordinal","legend":null,"scale":{"domain":[-3,-2,-1,0,1,2,3,4,5],"range":["#c8c8ff","#dcdcff","#eeeeff","#fffdfd","#ffeeee","#ffdcdc","#ffc6c6","#ffb4b4","#ffa4a4"]}}}},
{"data":{"name":"frame"},"mark":{"type":"rect","fillOpacity":0,"stroke":"black","strokeWidth":7},"encoding":{"x2":{"field":"x2"},"y2":{"field":"y2"}}}]},
{"width":614,"height":613,"encoding":{"x":{"field":"x","type":"quantitative","scale":{"domain":[0,300],"nice":false},"axis":{"zindex":1,"values":[0,200],"labelPadding":14,"titlePadding":10,"title":"t₁ (fs)"}},"y":{"field":"y","type":"quantitative","scale":{"domain":[0,300],"nice":false},"axis":{"zindex":1,"values":[0,100,200,300],"labels":false,"title":null}}},"layer":[
{"data":{"name":"frame"},"mark":{"type":"rect","fill":"#fffdfd"},"encoding":{"x2":{"field":"x2"},"y2":{"field":"y2"}}},
{"data":{"name":"p33"},"mark":{"type":"line","interpolate":"cardinal-closed","tension":0,"clip":true,"strokeWidth":0},"encoding":{"detail":{"field":"id"},"order":{"value":null},"fill":{"field":"v","type":"ordinal","legend":null,"scale":{"domain":[-3,-2,-1,0,1,2,3,4,5],"range":["#c8c8ff","#dcdcff","#eeeeff","#fffdfd","#ffeeee","#ffdcdc","#ffc6c6","#ffb4b4","#ffa4a4"]}}}},
{"data":{"name":"frame"},"mark":{"type":"rect","fillOpacity":0,"stroke":"black","strokeWidth":7},"encoding":{"x2":{"field":"x2"},"y2":{"field":"y2"}}}]}
]},
{"width":53,"height":2063,"encoding":{"x":{"field":"x","type":"quantitative","scale":{"domain":[0,1]},"axis":null},"y":{"field":"y","type":"quantitative","scale":{"domain":[-8.487,8.265],"nice":false},"axis":{"orient":"right","title":null,"values":[-1,0,1],"tickSize":15,"labelPadding":12}}},"layer":[
{"data":{"name":"bar"},"mark":{"type":"rect","strokeWidth":0.6},"encoding":{"x":{"value":0},"x2":{"value":53},"y":{"field":"lo","type":"quantitative"},"y2":{"field":"hi"},"fill":{"field":"m","type":"quantitative","legend":null,"scale":{"domain":[-1,-0.5,0,0.5,1],"range":["#00004c","#0000ff","#ffffff","#ff0000","#800000"],"interpolate":"rgb"}},"stroke":{"field":"m","type":"quantitative","legend":null,"scale":{"domain":[-1,-0.5,0,0.5,1],"range":["#00004c","#0000ff","#ffffff","#ff0000","#800000"],"interpolate":"rgb"}}}},
{"data":{"name":"tipT"},"mark":{"type":"line","interpolate":"linear-closed","fill":"#640000","strokeWidth":0},"encoding":{"order":{"value":null}}},
{"data":{"name":"tipB"},"mark":{"type":"line","interpolate":"linear-closed","fill":"#000040","strokeWidth":0},"encoding":{"order":{"value":null}}},
{"data":{"name":"hex"},"mark":{"type":"line","interpolate":"linear-closed","stroke":"black","strokeWidth":6,"fill":null},"encoding":{"order":{"value":null}}}]}
]}
